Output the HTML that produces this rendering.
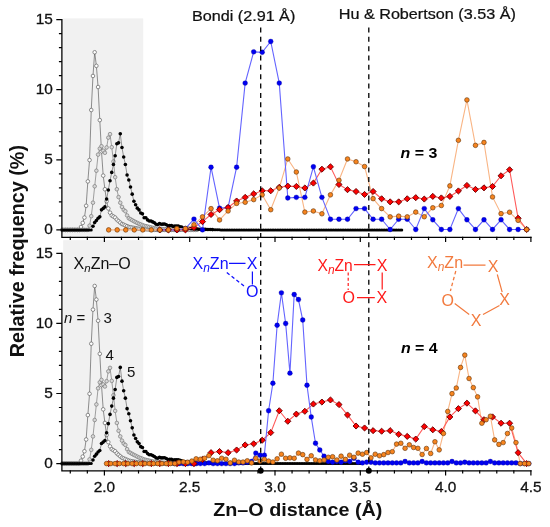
<!DOCTYPE html>
<html><head><meta charset="utf-8"><style>
html,body{margin:0;padding:0;background:#fff;width:550px;height:527px;overflow:hidden}
svg{display:block;will-change:transform}
text{font-family:"Liberation Sans",sans-serif}
.tk{font-size:15.4px;fill:#111;stroke:#111;stroke-width:0.3px}
.lb{font-size:16.2px;fill:#111}
.b{font-weight:bold}
</style></head><body>
<svg width="550" height="527" viewBox="0 0 550 527">
<rect x="63.2" y="18.4" width="80" height="218.5" fill="#f1f1f1"/>
<rect x="63.2" y="240.2" width="80" height="230.2" fill="#f1f1f1"/>
<polyline points="62.26,229.9 63.97,229.9 65.67,229.9 67.38,229.9 69.09,229.9 70.79,229.9 72.5,229.9 74.2,229.9 75.91,229.9 77.62,229.9 79.32,229.9 81.03,226.96 82.73,222.89 84.44,217.56 86.15,205.79 87.85,181.39 89.56,160.08 91.26,110.03 92.97,75.96 94.68,52.27 96.38,65.87 98.09,87.04 99.79,120.12 101.5,151.39 103.21,175.64 104.91,189.24 106.62,201.3 108.32,208.45 110.03,212.66 111.74,215.46 113.44,216.51 115.15,217.56 116.85,219.67 118.56,221.14 120.27,222.61 121.97,224.01 123.68,224.71 125.38,225.41 127.09,226.18 128.8,226.96 130.5,227.28 132.21,227.6 133.91,227.92 135.62,228.23 137.33,228.55 139.03,228.81 140.74,228.92 142.44,229.04 144.15,229.15 145.86,229.26 147.56,229.37 149.27,229.49 150.97,229.6 152.68,229.71 154.39,229.82 156.09,229.9 157.8,229.9 159.5,229.9 161.21,229.9 162.92,229.9 164.62,229.9 166.33,229.9 168.03,229.9 169.74,229.9 171.45,229.9 173.15,229.9 174.86,229.9 176.56,229.9 178.27,229.9 179.98,229.9" fill="none" stroke="#606060" stroke-width="0.7"/>
<circle cx="62.26" cy="229.9" r="1.8" fill="#ffffff" stroke="#606060" stroke-width="0.7"/><circle cx="63.97" cy="229.9" r="1.8" fill="#ffffff" stroke="#606060" stroke-width="0.7"/><circle cx="65.67" cy="229.9" r="1.8" fill="#ffffff" stroke="#606060" stroke-width="0.7"/><circle cx="67.38" cy="229.9" r="1.8" fill="#ffffff" stroke="#606060" stroke-width="0.7"/><circle cx="69.09" cy="229.9" r="1.8" fill="#ffffff" stroke="#606060" stroke-width="0.7"/><circle cx="70.79" cy="229.9" r="1.8" fill="#ffffff" stroke="#606060" stroke-width="0.7"/><circle cx="72.5" cy="229.9" r="1.8" fill="#ffffff" stroke="#606060" stroke-width="0.7"/><circle cx="74.2" cy="229.9" r="1.8" fill="#ffffff" stroke="#606060" stroke-width="0.7"/><circle cx="75.91" cy="229.9" r="1.8" fill="#ffffff" stroke="#606060" stroke-width="0.7"/><circle cx="77.62" cy="229.9" r="1.8" fill="#ffffff" stroke="#606060" stroke-width="0.7"/><circle cx="79.32" cy="229.9" r="1.8" fill="#ffffff" stroke="#606060" stroke-width="0.7"/><circle cx="81.03" cy="226.96" r="1.8" fill="#ffffff" stroke="#606060" stroke-width="0.7"/><circle cx="82.73" cy="222.89" r="1.8" fill="#ffffff" stroke="#606060" stroke-width="0.7"/><circle cx="84.44" cy="217.56" r="1.8" fill="#ffffff" stroke="#606060" stroke-width="0.7"/><circle cx="86.15" cy="205.79" r="1.8" fill="#ffffff" stroke="#606060" stroke-width="0.7"/><circle cx="87.85" cy="181.39" r="1.8" fill="#ffffff" stroke="#606060" stroke-width="0.7"/><circle cx="89.56" cy="160.08" r="1.8" fill="#ffffff" stroke="#606060" stroke-width="0.7"/><circle cx="91.26" cy="110.03" r="1.8" fill="#ffffff" stroke="#606060" stroke-width="0.7"/><circle cx="92.97" cy="75.96" r="1.8" fill="#ffffff" stroke="#606060" stroke-width="0.7"/><circle cx="94.68" cy="52.27" r="1.8" fill="#ffffff" stroke="#606060" stroke-width="0.7"/><circle cx="96.38" cy="65.87" r="1.8" fill="#ffffff" stroke="#606060" stroke-width="0.7"/><circle cx="98.09" cy="87.04" r="1.8" fill="#ffffff" stroke="#606060" stroke-width="0.7"/><circle cx="99.79" cy="120.12" r="1.8" fill="#ffffff" stroke="#606060" stroke-width="0.7"/><circle cx="101.5" cy="151.39" r="1.8" fill="#ffffff" stroke="#606060" stroke-width="0.7"/><circle cx="103.21" cy="175.64" r="1.8" fill="#ffffff" stroke="#606060" stroke-width="0.7"/><circle cx="104.91" cy="189.24" r="1.8" fill="#ffffff" stroke="#606060" stroke-width="0.7"/><circle cx="106.62" cy="201.3" r="1.8" fill="#ffffff" stroke="#606060" stroke-width="0.7"/><circle cx="108.32" cy="208.45" r="1.8" fill="#ffffff" stroke="#606060" stroke-width="0.7"/><circle cx="110.03" cy="212.66" r="1.8" fill="#ffffff" stroke="#606060" stroke-width="0.7"/><circle cx="111.74" cy="215.46" r="1.8" fill="#ffffff" stroke="#606060" stroke-width="0.7"/><circle cx="113.44" cy="216.51" r="1.8" fill="#ffffff" stroke="#606060" stroke-width="0.7"/><circle cx="115.15" cy="217.56" r="1.8" fill="#ffffff" stroke="#606060" stroke-width="0.7"/><circle cx="116.85" cy="219.67" r="1.8" fill="#ffffff" stroke="#606060" stroke-width="0.7"/><circle cx="118.56" cy="221.14" r="1.8" fill="#ffffff" stroke="#606060" stroke-width="0.7"/><circle cx="120.27" cy="222.61" r="1.8" fill="#ffffff" stroke="#606060" stroke-width="0.7"/><circle cx="121.97" cy="224.01" r="1.8" fill="#ffffff" stroke="#606060" stroke-width="0.7"/><circle cx="123.68" cy="224.71" r="1.8" fill="#ffffff" stroke="#606060" stroke-width="0.7"/><circle cx="125.38" cy="225.41" r="1.8" fill="#ffffff" stroke="#606060" stroke-width="0.7"/><circle cx="127.09" cy="226.18" r="1.8" fill="#ffffff" stroke="#606060" stroke-width="0.7"/><circle cx="128.8" cy="226.96" r="1.8" fill="#ffffff" stroke="#606060" stroke-width="0.7"/><circle cx="130.5" cy="227.28" r="1.8" fill="#ffffff" stroke="#606060" stroke-width="0.7"/><circle cx="132.21" cy="227.6" r="1.8" fill="#ffffff" stroke="#606060" stroke-width="0.7"/><circle cx="133.91" cy="227.92" r="1.8" fill="#ffffff" stroke="#606060" stroke-width="0.7"/><circle cx="135.62" cy="228.23" r="1.8" fill="#ffffff" stroke="#606060" stroke-width="0.7"/><circle cx="137.33" cy="228.55" r="1.8" fill="#ffffff" stroke="#606060" stroke-width="0.7"/><circle cx="139.03" cy="228.81" r="1.8" fill="#ffffff" stroke="#606060" stroke-width="0.7"/><circle cx="140.74" cy="228.92" r="1.8" fill="#ffffff" stroke="#606060" stroke-width="0.7"/><circle cx="142.44" cy="229.04" r="1.8" fill="#ffffff" stroke="#606060" stroke-width="0.7"/><circle cx="144.15" cy="229.15" r="1.8" fill="#ffffff" stroke="#606060" stroke-width="0.7"/><circle cx="145.86" cy="229.26" r="1.8" fill="#ffffff" stroke="#606060" stroke-width="0.7"/><circle cx="147.56" cy="229.37" r="1.8" fill="#ffffff" stroke="#606060" stroke-width="0.7"/><circle cx="149.27" cy="229.49" r="1.8" fill="#ffffff" stroke="#606060" stroke-width="0.7"/><circle cx="150.97" cy="229.6" r="1.8" fill="#ffffff" stroke="#606060" stroke-width="0.7"/><circle cx="152.68" cy="229.71" r="1.8" fill="#ffffff" stroke="#606060" stroke-width="0.7"/><circle cx="154.39" cy="229.82" r="1.8" fill="#ffffff" stroke="#606060" stroke-width="0.7"/><circle cx="156.09" cy="229.9" r="1.8" fill="#ffffff" stroke="#606060" stroke-width="0.7"/><circle cx="157.8" cy="229.9" r="1.8" fill="#ffffff" stroke="#606060" stroke-width="0.7"/><circle cx="159.5" cy="229.9" r="1.8" fill="#ffffff" stroke="#606060" stroke-width="0.7"/><circle cx="161.21" cy="229.9" r="1.8" fill="#ffffff" stroke="#606060" stroke-width="0.7"/><circle cx="162.92" cy="229.9" r="1.8" fill="#ffffff" stroke="#606060" stroke-width="0.7"/><circle cx="164.62" cy="229.9" r="1.8" fill="#ffffff" stroke="#606060" stroke-width="0.7"/><circle cx="166.33" cy="229.9" r="1.8" fill="#ffffff" stroke="#606060" stroke-width="0.7"/><circle cx="168.03" cy="229.9" r="1.8" fill="#ffffff" stroke="#606060" stroke-width="0.7"/><circle cx="169.74" cy="229.9" r="1.8" fill="#ffffff" stroke="#606060" stroke-width="0.7"/><circle cx="171.45" cy="229.9" r="1.8" fill="#ffffff" stroke="#606060" stroke-width="0.7"/><circle cx="173.15" cy="229.9" r="1.8" fill="#ffffff" stroke="#606060" stroke-width="0.7"/><circle cx="174.86" cy="229.9" r="1.8" fill="#ffffff" stroke="#606060" stroke-width="0.7"/><circle cx="176.56" cy="229.9" r="1.8" fill="#ffffff" stroke="#606060" stroke-width="0.7"/><circle cx="178.27" cy="229.9" r="1.8" fill="#ffffff" stroke="#606060" stroke-width="0.7"/><circle cx="179.98" cy="229.9" r="1.8" fill="#ffffff" stroke="#606060" stroke-width="0.7"/>
<polyline points="62.26,229.9 63.97,229.9 65.67,229.9 67.38,229.9 69.09,229.9 70.79,229.9 72.5,229.9 74.2,229.9 75.91,229.9 77.62,229.9 79.32,229.9 81.03,229.9 82.73,229.9 84.44,229.9 86.15,229.9 87.85,229.9 89.56,225.69 91.26,216.16 92.97,202.7 94.68,186.3 96.38,170.74 98.09,154.61 99.79,148.58 101.5,146.2 103.21,150.69 104.91,152.79 106.62,147.46 108.32,137.65 110.03,134.14 111.74,147.18 113.44,161.48 115.15,177.18 116.85,189.24 118.56,197.09 120.27,202.7 121.97,206.91 123.68,209.85 125.38,211.25 127.09,215.46 128.8,218.26 130.5,219.24 132.21,220.23 133.91,221.21 135.62,222.09 137.33,222.97 139.03,223.79 140.74,224.45 142.44,225.1 144.15,225.74 145.86,226.15 147.56,226.56 149.27,226.97 150.97,227.38 152.68,227.8 154.39,228.21 156.09,228.53 157.8,228.64 159.5,228.76 161.21,228.87 162.92,228.98 164.62,229.09 166.33,229.2 168.03,229.32 169.74,229.43 171.45,229.54 173.15,229.63 174.86,229.66 176.56,229.68 178.27,229.71 179.98,229.74 181.68,229.77 183.39,229.8 185.09,229.82 186.8,229.85 188.51,229.88 190.21,229.9 191.92,229.9 193.62,229.9 195.33,229.9 197.04,229.9" fill="none" stroke="#7a7a7a" stroke-width="0.7"/>
<circle cx="62.26" cy="229.9" r="1.8" fill="#d8d8d8" stroke="#7a7a7a" stroke-width="0.7"/><circle cx="63.97" cy="229.9" r="1.8" fill="#d8d8d8" stroke="#7a7a7a" stroke-width="0.7"/><circle cx="65.67" cy="229.9" r="1.8" fill="#d8d8d8" stroke="#7a7a7a" stroke-width="0.7"/><circle cx="67.38" cy="229.9" r="1.8" fill="#d8d8d8" stroke="#7a7a7a" stroke-width="0.7"/><circle cx="69.09" cy="229.9" r="1.8" fill="#d8d8d8" stroke="#7a7a7a" stroke-width="0.7"/><circle cx="70.79" cy="229.9" r="1.8" fill="#d8d8d8" stroke="#7a7a7a" stroke-width="0.7"/><circle cx="72.5" cy="229.9" r="1.8" fill="#d8d8d8" stroke="#7a7a7a" stroke-width="0.7"/><circle cx="74.2" cy="229.9" r="1.8" fill="#d8d8d8" stroke="#7a7a7a" stroke-width="0.7"/><circle cx="75.91" cy="229.9" r="1.8" fill="#d8d8d8" stroke="#7a7a7a" stroke-width="0.7"/><circle cx="77.62" cy="229.9" r="1.8" fill="#d8d8d8" stroke="#7a7a7a" stroke-width="0.7"/><circle cx="79.32" cy="229.9" r="1.8" fill="#d8d8d8" stroke="#7a7a7a" stroke-width="0.7"/><circle cx="81.03" cy="229.9" r="1.8" fill="#d8d8d8" stroke="#7a7a7a" stroke-width="0.7"/><circle cx="82.73" cy="229.9" r="1.8" fill="#d8d8d8" stroke="#7a7a7a" stroke-width="0.7"/><circle cx="84.44" cy="229.9" r="1.8" fill="#d8d8d8" stroke="#7a7a7a" stroke-width="0.7"/><circle cx="86.15" cy="229.9" r="1.8" fill="#d8d8d8" stroke="#7a7a7a" stroke-width="0.7"/><circle cx="87.85" cy="229.9" r="1.8" fill="#d8d8d8" stroke="#7a7a7a" stroke-width="0.7"/><circle cx="89.56" cy="225.69" r="1.8" fill="#d8d8d8" stroke="#7a7a7a" stroke-width="0.7"/><circle cx="91.26" cy="216.16" r="1.8" fill="#d8d8d8" stroke="#7a7a7a" stroke-width="0.7"/><circle cx="92.97" cy="202.7" r="1.8" fill="#d8d8d8" stroke="#7a7a7a" stroke-width="0.7"/><circle cx="94.68" cy="186.3" r="1.8" fill="#d8d8d8" stroke="#7a7a7a" stroke-width="0.7"/><circle cx="96.38" cy="170.74" r="1.8" fill="#d8d8d8" stroke="#7a7a7a" stroke-width="0.7"/><circle cx="98.09" cy="154.61" r="1.8" fill="#d8d8d8" stroke="#7a7a7a" stroke-width="0.7"/><circle cx="99.79" cy="148.58" r="1.8" fill="#d8d8d8" stroke="#7a7a7a" stroke-width="0.7"/><circle cx="101.5" cy="146.2" r="1.8" fill="#d8d8d8" stroke="#7a7a7a" stroke-width="0.7"/><circle cx="103.21" cy="150.69" r="1.8" fill="#d8d8d8" stroke="#7a7a7a" stroke-width="0.7"/><circle cx="104.91" cy="152.79" r="1.8" fill="#d8d8d8" stroke="#7a7a7a" stroke-width="0.7"/><circle cx="106.62" cy="147.46" r="1.8" fill="#d8d8d8" stroke="#7a7a7a" stroke-width="0.7"/><circle cx="108.32" cy="137.65" r="1.8" fill="#d8d8d8" stroke="#7a7a7a" stroke-width="0.7"/><circle cx="110.03" cy="134.14" r="1.8" fill="#d8d8d8" stroke="#7a7a7a" stroke-width="0.7"/><circle cx="111.74" cy="147.18" r="1.8" fill="#d8d8d8" stroke="#7a7a7a" stroke-width="0.7"/><circle cx="113.44" cy="161.48" r="1.8" fill="#d8d8d8" stroke="#7a7a7a" stroke-width="0.7"/><circle cx="115.15" cy="177.18" r="1.8" fill="#d8d8d8" stroke="#7a7a7a" stroke-width="0.7"/><circle cx="116.85" cy="189.24" r="1.8" fill="#d8d8d8" stroke="#7a7a7a" stroke-width="0.7"/><circle cx="118.56" cy="197.09" r="1.8" fill="#d8d8d8" stroke="#7a7a7a" stroke-width="0.7"/><circle cx="120.27" cy="202.7" r="1.8" fill="#d8d8d8" stroke="#7a7a7a" stroke-width="0.7"/><circle cx="121.97" cy="206.91" r="1.8" fill="#d8d8d8" stroke="#7a7a7a" stroke-width="0.7"/><circle cx="123.68" cy="209.85" r="1.8" fill="#d8d8d8" stroke="#7a7a7a" stroke-width="0.7"/><circle cx="125.38" cy="211.25" r="1.8" fill="#d8d8d8" stroke="#7a7a7a" stroke-width="0.7"/><circle cx="127.09" cy="215.46" r="1.8" fill="#d8d8d8" stroke="#7a7a7a" stroke-width="0.7"/><circle cx="128.8" cy="218.26" r="1.8" fill="#d8d8d8" stroke="#7a7a7a" stroke-width="0.7"/><circle cx="130.5" cy="219.24" r="1.8" fill="#d8d8d8" stroke="#7a7a7a" stroke-width="0.7"/><circle cx="132.21" cy="220.23" r="1.8" fill="#d8d8d8" stroke="#7a7a7a" stroke-width="0.7"/><circle cx="133.91" cy="221.21" r="1.8" fill="#d8d8d8" stroke="#7a7a7a" stroke-width="0.7"/><circle cx="135.62" cy="222.09" r="1.8" fill="#d8d8d8" stroke="#7a7a7a" stroke-width="0.7"/><circle cx="137.33" cy="222.97" r="1.8" fill="#d8d8d8" stroke="#7a7a7a" stroke-width="0.7"/><circle cx="139.03" cy="223.79" r="1.8" fill="#d8d8d8" stroke="#7a7a7a" stroke-width="0.7"/><circle cx="140.74" cy="224.45" r="1.8" fill="#d8d8d8" stroke="#7a7a7a" stroke-width="0.7"/><circle cx="142.44" cy="225.1" r="1.8" fill="#d8d8d8" stroke="#7a7a7a" stroke-width="0.7"/><circle cx="144.15" cy="225.74" r="1.8" fill="#d8d8d8" stroke="#7a7a7a" stroke-width="0.7"/><circle cx="145.86" cy="226.15" r="1.8" fill="#d8d8d8" stroke="#7a7a7a" stroke-width="0.7"/><circle cx="147.56" cy="226.56" r="1.8" fill="#d8d8d8" stroke="#7a7a7a" stroke-width="0.7"/><circle cx="149.27" cy="226.97" r="1.8" fill="#d8d8d8" stroke="#7a7a7a" stroke-width="0.7"/><circle cx="150.97" cy="227.38" r="1.8" fill="#d8d8d8" stroke="#7a7a7a" stroke-width="0.7"/><circle cx="152.68" cy="227.8" r="1.8" fill="#d8d8d8" stroke="#7a7a7a" stroke-width="0.7"/><circle cx="154.39" cy="228.21" r="1.8" fill="#d8d8d8" stroke="#7a7a7a" stroke-width="0.7"/><circle cx="156.09" cy="228.53" r="1.8" fill="#d8d8d8" stroke="#7a7a7a" stroke-width="0.7"/><circle cx="157.8" cy="228.64" r="1.8" fill="#d8d8d8" stroke="#7a7a7a" stroke-width="0.7"/><circle cx="159.5" cy="228.76" r="1.8" fill="#d8d8d8" stroke="#7a7a7a" stroke-width="0.7"/><circle cx="161.21" cy="228.87" r="1.8" fill="#d8d8d8" stroke="#7a7a7a" stroke-width="0.7"/><circle cx="162.92" cy="228.98" r="1.8" fill="#d8d8d8" stroke="#7a7a7a" stroke-width="0.7"/><circle cx="164.62" cy="229.09" r="1.8" fill="#d8d8d8" stroke="#7a7a7a" stroke-width="0.7"/><circle cx="166.33" cy="229.2" r="1.8" fill="#d8d8d8" stroke="#7a7a7a" stroke-width="0.7"/><circle cx="168.03" cy="229.32" r="1.8" fill="#d8d8d8" stroke="#7a7a7a" stroke-width="0.7"/><circle cx="169.74" cy="229.43" r="1.8" fill="#d8d8d8" stroke="#7a7a7a" stroke-width="0.7"/><circle cx="171.45" cy="229.54" r="1.8" fill="#d8d8d8" stroke="#7a7a7a" stroke-width="0.7"/><circle cx="173.15" cy="229.63" r="1.8" fill="#d8d8d8" stroke="#7a7a7a" stroke-width="0.7"/><circle cx="174.86" cy="229.66" r="1.8" fill="#d8d8d8" stroke="#7a7a7a" stroke-width="0.7"/><circle cx="176.56" cy="229.68" r="1.8" fill="#d8d8d8" stroke="#7a7a7a" stroke-width="0.7"/><circle cx="178.27" cy="229.71" r="1.8" fill="#d8d8d8" stroke="#7a7a7a" stroke-width="0.7"/><circle cx="179.98" cy="229.74" r="1.8" fill="#d8d8d8" stroke="#7a7a7a" stroke-width="0.7"/><circle cx="181.68" cy="229.77" r="1.8" fill="#d8d8d8" stroke="#7a7a7a" stroke-width="0.7"/><circle cx="183.39" cy="229.8" r="1.8" fill="#d8d8d8" stroke="#7a7a7a" stroke-width="0.7"/><circle cx="185.09" cy="229.82" r="1.8" fill="#d8d8d8" stroke="#7a7a7a" stroke-width="0.7"/><circle cx="186.8" cy="229.85" r="1.8" fill="#d8d8d8" stroke="#7a7a7a" stroke-width="0.7"/><circle cx="188.51" cy="229.88" r="1.8" fill="#d8d8d8" stroke="#7a7a7a" stroke-width="0.7"/><circle cx="190.21" cy="229.9" r="1.8" fill="#d8d8d8" stroke="#7a7a7a" stroke-width="0.7"/><circle cx="191.92" cy="229.9" r="1.8" fill="#d8d8d8" stroke="#7a7a7a" stroke-width="0.7"/><circle cx="193.62" cy="229.9" r="1.8" fill="#d8d8d8" stroke="#7a7a7a" stroke-width="0.7"/><circle cx="195.33" cy="229.9" r="1.8" fill="#d8d8d8" stroke="#7a7a7a" stroke-width="0.7"/><circle cx="197.04" cy="229.9" r="1.8" fill="#d8d8d8" stroke="#7a7a7a" stroke-width="0.7"/>
<polyline points="62.26,229.9 63.97,229.9 65.67,229.9 67.38,229.9 69.09,229.9 70.79,229.9 72.5,229.9 74.2,229.9 75.91,229.9 77.62,229.9 79.32,229.9 81.03,229.9 82.73,229.9 84.44,229.9 86.15,229.9 87.85,229.9 89.56,229.9 91.26,229.9 92.97,226.25 94.68,222.61 96.38,220.44 98.09,218.26 99.79,216.86 101.5,209.85 103.21,208.38 104.91,206.91 106.62,199.06 108.32,189.94 110.03,180.69 111.74,172.42 113.44,164.43 115.15,155.73 116.85,143.68 118.56,142.84 120.27,133.72 121.97,147.46 123.68,157 125.38,164.43 127.09,174.94 128.8,179.99 130.5,187 132.21,194.15 133.91,201.3 135.62,204.73 137.33,208.17 139.03,209.89 140.74,212.95 142.44,213.85 144.15,217.74 145.86,217.75 147.56,219.9 149.27,221 150.97,221.04 152.68,221.88 154.39,222.75 156.09,224.21 157.8,224.53 159.5,223.63 161.21,224.18 162.92,224.16 164.62,224.05 166.33,224.74 168.03,225.81 169.74,225.61 171.45,225.55 173.15,226.41 174.86,226.07 176.56,226.02 178.27,226.06 179.98,226.69 181.68,227.07 183.39,228.22 185.09,228.28 186.8,228.32 188.51,228.31 190.21,228.54 191.92,228.79 193.62,228.82 195.33,228.94 197.04,229.05 198.74,229.2 200.45,229.23 202.15,229.28 203.86,229.29 205.57,229.35 207.27,229.45 208.98,229.51 210.68,229.54 212.39,229.59 214.1,229.67 215.8,229.73 217.51,229.79 219.21,229.86 220.92,229.9 222.63,229.9 224.33,229.9 226.04,229.9 227.74,229.9 229.45,229.9 231.16,229.9 232.86,229.9 234.57,229.9 236.27,229.9 237.98,229.9 239.69,229.9 241.39,229.9 243.1,229.9 244.8,229.9 246.51,229.9 248.22,229.9 249.92,229.9 251.63,229.9 253.33,229.9 255.04,229.9 256.75,229.9 258.45,229.9 260.16,229.9 261.86,229.9 263.57,229.9 265.28,229.9 266.98,229.9 268.69,229.9 270.39,229.9 272.1,229.9 273.81,229.9 275.51,229.9 277.22,229.9 278.92,229.9 280.63,229.9 282.34,229.9 284.04,229.9 285.75,229.9 287.45,229.9 289.16,229.9 290.87,229.9 292.57,229.9 294.28,229.9 295.98,229.9 297.69,229.9 299.4,229.9 301.1,229.9 302.81,229.9 304.51,229.9 306.22,229.9 307.93,229.9 309.63,229.9 311.34,229.9 313.04,229.9 314.75,229.9 316.46,229.9 318.16,229.9 319.87,229.9 321.57,229.9 323.28,229.9 324.99,229.9 326.69,229.9 328.4,229.9 330.1,229.9 331.81,229.9 333.52,229.9 335.22,229.9 336.93,229.9 338.63,229.9 340.34,229.9 342.05,229.9 343.75,229.9 345.46,229.9 347.16,229.9 348.87,229.9 350.58,229.9 352.28,229.9 353.99,229.9 355.69,229.9 357.4,229.9 359.11,229.9 360.81,229.9 362.52,229.9 364.22,229.9 365.93,229.9 367.64,229.9 369.34,229.9 371.05,229.9 372.75,229.9 374.46,229.9 376.17,229.9 377.87,229.9 379.58,229.9 381.28,229.9 382.99,229.9 384.7,229.9 386.4,229.9 388.11,229.9 389.81,229.9 391.52,229.9 393.23,229.9 394.93,229.9 396.64,229.9 398.34,229.9 400.05,229.9 401.76,229.9" fill="none" stroke="#000" stroke-width="0.4"/>
<circle cx="62.26" cy="229.9" r="1.5" fill="#000"/><circle cx="63.97" cy="229.9" r="1.5" fill="#000"/><circle cx="65.67" cy="229.9" r="1.5" fill="#000"/><circle cx="67.38" cy="229.9" r="1.5" fill="#000"/><circle cx="69.09" cy="229.9" r="1.5" fill="#000"/><circle cx="70.79" cy="229.9" r="1.5" fill="#000"/><circle cx="72.5" cy="229.9" r="1.5" fill="#000"/><circle cx="74.2" cy="229.9" r="1.5" fill="#000"/><circle cx="75.91" cy="229.9" r="1.5" fill="#000"/><circle cx="77.62" cy="229.9" r="1.5" fill="#000"/><circle cx="79.32" cy="229.9" r="1.5" fill="#000"/><circle cx="81.03" cy="229.9" r="1.5" fill="#000"/><circle cx="82.73" cy="229.9" r="1.5" fill="#000"/><circle cx="84.44" cy="229.9" r="1.5" fill="#000"/><circle cx="86.15" cy="229.9" r="1.5" fill="#000"/><circle cx="87.85" cy="229.9" r="1.5" fill="#000"/><circle cx="89.56" cy="229.9" r="1.5" fill="#000"/><circle cx="91.26" cy="229.9" r="1.5" fill="#000"/><circle cx="92.97" cy="226.25" r="1.8" fill="#000"/><circle cx="94.68" cy="222.61" r="1.8" fill="#000"/><circle cx="96.38" cy="220.44" r="1.8" fill="#000"/><circle cx="98.09" cy="218.26" r="1.8" fill="#000"/><circle cx="99.79" cy="216.86" r="1.8" fill="#000"/><circle cx="101.5" cy="209.85" r="1.8" fill="#000"/><circle cx="103.21" cy="208.38" r="1.8" fill="#000"/><circle cx="104.91" cy="206.91" r="1.8" fill="#000"/><circle cx="106.62" cy="199.06" r="1.8" fill="#000"/><circle cx="108.32" cy="189.94" r="1.8" fill="#000"/><circle cx="110.03" cy="180.69" r="1.8" fill="#000"/><circle cx="111.74" cy="172.42" r="1.8" fill="#000"/><circle cx="113.44" cy="164.43" r="1.8" fill="#000"/><circle cx="115.15" cy="155.73" r="1.8" fill="#000"/><circle cx="116.85" cy="143.68" r="1.8" fill="#000"/><circle cx="118.56" cy="142.84" r="1.8" fill="#000"/><circle cx="120.27" cy="133.72" r="1.8" fill="#000"/><circle cx="121.97" cy="147.46" r="1.8" fill="#000"/><circle cx="123.68" cy="157" r="1.8" fill="#000"/><circle cx="125.38" cy="164.43" r="1.8" fill="#000"/><circle cx="127.09" cy="174.94" r="1.8" fill="#000"/><circle cx="128.8" cy="179.99" r="1.8" fill="#000"/><circle cx="130.5" cy="187" r="1.8" fill="#000"/><circle cx="132.21" cy="194.15" r="1.8" fill="#000"/><circle cx="133.91" cy="201.3" r="1.8" fill="#000"/><circle cx="135.62" cy="204.73" r="1.8" fill="#000"/><circle cx="137.33" cy="208.17" r="1.8" fill="#000"/><circle cx="139.03" cy="209.89" r="1.8" fill="#000"/><circle cx="140.74" cy="212.95" r="1.8" fill="#000"/><circle cx="142.44" cy="213.85" r="1.8" fill="#000"/><circle cx="144.15" cy="217.74" r="1.8" fill="#000"/><circle cx="145.86" cy="217.75" r="1.8" fill="#000"/><circle cx="147.56" cy="219.9" r="1.8" fill="#000"/><circle cx="149.27" cy="221" r="1.8" fill="#000"/><circle cx="150.97" cy="221.04" r="1.8" fill="#000"/><circle cx="152.68" cy="221.88" r="1.8" fill="#000"/><circle cx="154.39" cy="222.75" r="1.8" fill="#000"/><circle cx="156.09" cy="224.21" r="1.8" fill="#000"/><circle cx="157.8" cy="224.53" r="1.8" fill="#000"/><circle cx="159.5" cy="223.63" r="1.8" fill="#000"/><circle cx="161.21" cy="224.18" r="1.8" fill="#000"/><circle cx="162.92" cy="224.16" r="1.8" fill="#000"/><circle cx="164.62" cy="224.05" r="1.8" fill="#000"/><circle cx="166.33" cy="224.74" r="1.8" fill="#000"/><circle cx="168.03" cy="225.81" r="1.8" fill="#000"/><circle cx="169.74" cy="225.61" r="1.8" fill="#000"/><circle cx="171.45" cy="225.55" r="1.8" fill="#000"/><circle cx="173.15" cy="226.41" r="1.8" fill="#000"/><circle cx="174.86" cy="226.07" r="1.8" fill="#000"/><circle cx="176.56" cy="226.02" r="1.8" fill="#000"/><circle cx="178.27" cy="226.06" r="1.8" fill="#000"/><circle cx="179.98" cy="226.69" r="1.8" fill="#000"/><circle cx="181.68" cy="227.07" r="1.8" fill="#000"/><circle cx="183.39" cy="228.22" r="1.8" fill="#000"/><circle cx="185.09" cy="228.28" r="1.8" fill="#000"/><circle cx="186.8" cy="228.32" r="1.8" fill="#000"/><circle cx="188.51" cy="228.31" r="1.8" fill="#000"/><circle cx="190.21" cy="228.54" r="1.8" fill="#000"/><circle cx="191.92" cy="228.79" r="1.8" fill="#000"/><circle cx="193.62" cy="228.82" r="1.8" fill="#000"/><circle cx="195.33" cy="228.94" r="1.8" fill="#000"/><circle cx="197.04" cy="229.05" r="1.8" fill="#000"/><circle cx="198.74" cy="229.2" r="1.8" fill="#000"/><circle cx="200.45" cy="229.23" r="1.8" fill="#000"/><circle cx="202.15" cy="229.28" r="1.8" fill="#000"/><circle cx="203.86" cy="229.29" r="1.8" fill="#000"/><circle cx="205.57" cy="229.35" r="1.8" fill="#000"/><circle cx="207.27" cy="229.45" r="1.8" fill="#000"/><circle cx="208.98" cy="229.51" r="1.8" fill="#000"/><circle cx="210.68" cy="229.54" r="1.8" fill="#000"/><circle cx="212.39" cy="229.59" r="1.8" fill="#000"/><circle cx="214.1" cy="229.67" r="1.5" fill="#000"/><circle cx="215.8" cy="229.73" r="1.5" fill="#000"/><circle cx="217.51" cy="229.79" r="1.5" fill="#000"/><circle cx="219.21" cy="229.86" r="1.5" fill="#000"/><circle cx="220.92" cy="229.9" r="1.5" fill="#000"/><circle cx="222.63" cy="229.9" r="1.5" fill="#000"/><circle cx="224.33" cy="229.9" r="1.5" fill="#000"/><circle cx="226.04" cy="229.9" r="1.5" fill="#000"/><circle cx="227.74" cy="229.9" r="1.5" fill="#000"/><circle cx="229.45" cy="229.9" r="1.5" fill="#000"/><circle cx="231.16" cy="229.9" r="1.5" fill="#000"/><circle cx="232.86" cy="229.9" r="1.5" fill="#000"/><circle cx="234.57" cy="229.9" r="1.5" fill="#000"/><circle cx="236.27" cy="229.9" r="1.5" fill="#000"/><circle cx="237.98" cy="229.9" r="1.5" fill="#000"/><circle cx="239.69" cy="229.9" r="1.5" fill="#000"/><circle cx="241.39" cy="229.9" r="1.5" fill="#000"/><circle cx="243.1" cy="229.9" r="1.5" fill="#000"/><circle cx="244.8" cy="229.9" r="1.5" fill="#000"/><circle cx="246.51" cy="229.9" r="1.5" fill="#000"/><circle cx="248.22" cy="229.9" r="1.5" fill="#000"/><circle cx="249.92" cy="229.9" r="1.5" fill="#000"/><circle cx="251.63" cy="229.9" r="1.5" fill="#000"/><circle cx="253.33" cy="229.9" r="1.5" fill="#000"/><circle cx="255.04" cy="229.9" r="1.5" fill="#000"/><circle cx="256.75" cy="229.9" r="1.5" fill="#000"/><circle cx="258.45" cy="229.9" r="1.5" fill="#000"/><circle cx="260.16" cy="229.9" r="1.5" fill="#000"/><circle cx="261.86" cy="229.9" r="1.5" fill="#000"/><circle cx="263.57" cy="229.9" r="1.5" fill="#000"/><circle cx="265.28" cy="229.9" r="1.5" fill="#000"/><circle cx="266.98" cy="229.9" r="1.5" fill="#000"/><circle cx="268.69" cy="229.9" r="1.5" fill="#000"/><circle cx="270.39" cy="229.9" r="1.5" fill="#000"/><circle cx="272.1" cy="229.9" r="1.5" fill="#000"/><circle cx="273.81" cy="229.9" r="1.5" fill="#000"/><circle cx="275.51" cy="229.9" r="1.5" fill="#000"/><circle cx="277.22" cy="229.9" r="1.5" fill="#000"/><circle cx="278.92" cy="229.9" r="1.5" fill="#000"/><circle cx="280.63" cy="229.9" r="1.5" fill="#000"/><circle cx="282.34" cy="229.9" r="1.5" fill="#000"/><circle cx="284.04" cy="229.9" r="1.5" fill="#000"/><circle cx="285.75" cy="229.9" r="1.5" fill="#000"/><circle cx="287.45" cy="229.9" r="1.5" fill="#000"/><circle cx="289.16" cy="229.9" r="1.5" fill="#000"/><circle cx="290.87" cy="229.9" r="1.5" fill="#000"/><circle cx="292.57" cy="229.9" r="1.5" fill="#000"/><circle cx="294.28" cy="229.9" r="1.5" fill="#000"/><circle cx="295.98" cy="229.9" r="1.5" fill="#000"/><circle cx="297.69" cy="229.9" r="1.5" fill="#000"/><circle cx="299.4" cy="229.9" r="1.5" fill="#000"/><circle cx="301.1" cy="229.9" r="1.5" fill="#000"/><circle cx="302.81" cy="229.9" r="1.5" fill="#000"/><circle cx="304.51" cy="229.9" r="1.5" fill="#000"/><circle cx="306.22" cy="229.9" r="1.5" fill="#000"/><circle cx="307.93" cy="229.9" r="1.5" fill="#000"/><circle cx="309.63" cy="229.9" r="1.5" fill="#000"/><circle cx="311.34" cy="229.9" r="1.5" fill="#000"/><circle cx="313.04" cy="229.9" r="1.5" fill="#000"/><circle cx="314.75" cy="229.9" r="1.5" fill="#000"/><circle cx="316.46" cy="229.9" r="1.5" fill="#000"/><circle cx="318.16" cy="229.9" r="1.5" fill="#000"/><circle cx="319.87" cy="229.9" r="1.5" fill="#000"/><circle cx="321.57" cy="229.9" r="1.5" fill="#000"/><circle cx="323.28" cy="229.9" r="1.5" fill="#000"/><circle cx="324.99" cy="229.9" r="1.5" fill="#000"/><circle cx="326.69" cy="229.9" r="1.5" fill="#000"/><circle cx="328.4" cy="229.9" r="1.5" fill="#000"/><circle cx="330.1" cy="229.9" r="1.5" fill="#000"/><circle cx="331.81" cy="229.9" r="1.5" fill="#000"/><circle cx="333.52" cy="229.9" r="1.5" fill="#000"/><circle cx="335.22" cy="229.9" r="1.5" fill="#000"/><circle cx="336.93" cy="229.9" r="1.5" fill="#000"/><circle cx="338.63" cy="229.9" r="1.5" fill="#000"/><circle cx="340.34" cy="229.9" r="1.5" fill="#000"/><circle cx="342.05" cy="229.9" r="1.5" fill="#000"/><circle cx="343.75" cy="229.9" r="1.5" fill="#000"/><circle cx="345.46" cy="229.9" r="1.5" fill="#000"/><circle cx="347.16" cy="229.9" r="1.5" fill="#000"/><circle cx="348.87" cy="229.9" r="1.5" fill="#000"/><circle cx="350.58" cy="229.9" r="1.5" fill="#000"/><circle cx="352.28" cy="229.9" r="1.5" fill="#000"/><circle cx="353.99" cy="229.9" r="1.5" fill="#000"/><circle cx="355.69" cy="229.9" r="1.5" fill="#000"/><circle cx="357.4" cy="229.9" r="1.5" fill="#000"/><circle cx="359.11" cy="229.9" r="1.5" fill="#000"/><circle cx="360.81" cy="229.9" r="1.5" fill="#000"/><circle cx="362.52" cy="229.9" r="1.5" fill="#000"/><circle cx="364.22" cy="229.9" r="1.5" fill="#000"/><circle cx="365.93" cy="229.9" r="1.5" fill="#000"/><circle cx="367.64" cy="229.9" r="1.5" fill="#000"/><circle cx="369.34" cy="229.9" r="1.5" fill="#000"/><circle cx="371.05" cy="229.9" r="1.5" fill="#000"/><circle cx="372.75" cy="229.9" r="1.5" fill="#000"/><circle cx="374.46" cy="229.9" r="1.5" fill="#000"/><circle cx="376.17" cy="229.9" r="1.5" fill="#000"/><circle cx="377.87" cy="229.9" r="1.5" fill="#000"/><circle cx="379.58" cy="229.9" r="1.5" fill="#000"/><circle cx="381.28" cy="229.9" r="1.5" fill="#000"/><circle cx="382.99" cy="229.9" r="1.5" fill="#000"/><circle cx="384.7" cy="229.9" r="1.5" fill="#000"/><circle cx="386.4" cy="229.9" r="1.5" fill="#000"/><circle cx="388.11" cy="229.9" r="1.5" fill="#000"/><circle cx="389.81" cy="229.9" r="1.5" fill="#000"/><circle cx="391.52" cy="229.9" r="1.5" fill="#000"/><circle cx="393.23" cy="229.9" r="1.5" fill="#000"/><circle cx="394.93" cy="229.9" r="1.5" fill="#000"/><circle cx="396.64" cy="229.9" r="1.5" fill="#000"/><circle cx="398.34" cy="229.9" r="1.5" fill="#000"/><circle cx="400.05" cy="229.9" r="1.5" fill="#000"/><circle cx="401.76" cy="229.9" r="1.5" fill="#000"/>
<polyline points="108.66,229.9 117.19,229.9 125.73,229.9 134.25,229.9 142.79,229.9 151.31,229.9 159.85,229.9 168.38,229.9 176.9,228.5 185.44,228.5 193.96,224.71 202.5,216.86 211.03,208.59 219.55,219.95 228.09,210.97 236.61,203.4 245.15,202.28 253.68,199.62 262.2,194.85 270.74,209.71 279.26,187.98 287.8,158.96 296.32,172 304.85,212.09 313.38,210.97 321.91,213.78 330.45,194.85 338.98,180.27 347.5,158.96 356.04,161.76 364.56,166.53 373.1,198.64 381.62,208.59 390.15,216.86 398.69,216.16 407.22,216.86 415.75,212.09 424.27,216.72 432.8,207.75 441.34,205.51 449.87,185.88 458.39,140.31 466.92,99.93 475.45,145.36 483.98,142.42 492.52,196.95 501.05,213.64 509.58,212.23 518.11,220.37 526.63,229.48" fill="none" stroke="#f9b585" stroke-width="1.1"/>
<polyline points="159.85,229.9 168.38,229.9 176.9,229.9 185.44,229.9 193.96,227.52 202.5,221.63 211.03,214.48 219.55,209.71 228.09,207.47 236.61,201.02 245.15,197.37 253.68,193.87 262.2,190.78 270.74,190.78 279.26,187.28 287.8,186.16 296.32,186.44 304.85,187.98 313.38,183.07 321.91,169.19 330.45,166.81 338.98,184.48 347.5,189.66 356.04,191.49 364.56,194.43 373.1,191.49 381.62,198.78 390.15,201.86 398.69,201.86 407.22,198.78 415.75,197.65 424.27,199.06 432.8,196.39 441.34,197.93 449.87,196.39 458.39,190.92 466.92,185.46 475.45,189.38 483.98,187.84 492.52,186.44 501.05,175.78 509.58,169.75 518.11,218.26 526.63,229.48" fill="none" stroke="#ff5a5a" stroke-width="1.1"/>
<polyline points="159.85,229.9 168.38,229.9 176.9,229.9 185.44,228.5 193.96,219.1 202.5,229.9 211.03,167.23 219.55,208.17 228.09,207.47 236.61,167.23 245.15,83.11 253.68,51.85 262.2,52.27 270.74,41.47 279.26,83.11 287.8,197.93 296.32,197.37 304.85,197.37 313.38,166.81 321.91,197.37 330.45,219.24 338.98,219.24 347.5,219.24 356.04,208.59 364.56,208.59 373.1,219.24 381.62,219.24 390.15,229.48 398.69,219.24 407.22,219.24 415.75,229.48 424.27,208.59 432.8,219.81 441.34,229.48 449.87,229.48 458.39,208.59 466.92,219.81 475.45,229.48 483.98,219.81 492.52,229.48 501.05,219.81 509.58,229.48 518.11,229.48 526.63,229.48" fill="none" stroke="#6464ff" stroke-width="1.1"/>
<circle cx="159.85" cy="229.9" r="2.45" fill="#0000f0" stroke="#00008a" stroke-width="0.3"/><circle cx="168.38" cy="229.9" r="2.45" fill="#0000f0" stroke="#00008a" stroke-width="0.3"/><circle cx="176.9" cy="229.9" r="2.45" fill="#0000f0" stroke="#00008a" stroke-width="0.3"/><circle cx="185.44" cy="228.5" r="2.45" fill="#0000f0" stroke="#00008a" stroke-width="0.3"/><circle cx="193.96" cy="219.1" r="2.45" fill="#0000f0" stroke="#00008a" stroke-width="0.3"/><circle cx="202.5" cy="229.9" r="2.45" fill="#0000f0" stroke="#00008a" stroke-width="0.3"/><circle cx="211.03" cy="167.23" r="2.45" fill="#0000f0" stroke="#00008a" stroke-width="0.3"/><circle cx="219.55" cy="208.17" r="2.45" fill="#0000f0" stroke="#00008a" stroke-width="0.3"/><circle cx="228.09" cy="207.47" r="2.45" fill="#0000f0" stroke="#00008a" stroke-width="0.3"/><circle cx="236.61" cy="167.23" r="2.45" fill="#0000f0" stroke="#00008a" stroke-width="0.3"/><circle cx="245.15" cy="83.11" r="2.45" fill="#0000f0" stroke="#00008a" stroke-width="0.3"/><circle cx="253.68" cy="51.85" r="2.45" fill="#0000f0" stroke="#00008a" stroke-width="0.3"/><circle cx="262.2" cy="52.27" r="2.45" fill="#0000f0" stroke="#00008a" stroke-width="0.3"/><circle cx="270.74" cy="41.47" r="2.45" fill="#0000f0" stroke="#00008a" stroke-width="0.3"/><circle cx="279.26" cy="83.11" r="2.45" fill="#0000f0" stroke="#00008a" stroke-width="0.3"/><circle cx="287.8" cy="197.93" r="2.45" fill="#0000f0" stroke="#00008a" stroke-width="0.3"/><circle cx="296.32" cy="197.37" r="2.45" fill="#0000f0" stroke="#00008a" stroke-width="0.3"/><circle cx="304.85" cy="197.37" r="2.45" fill="#0000f0" stroke="#00008a" stroke-width="0.3"/><circle cx="313.38" cy="166.81" r="2.45" fill="#0000f0" stroke="#00008a" stroke-width="0.3"/><circle cx="321.91" cy="197.37" r="2.45" fill="#0000f0" stroke="#00008a" stroke-width="0.3"/><circle cx="330.45" cy="219.24" r="2.45" fill="#0000f0" stroke="#00008a" stroke-width="0.3"/><circle cx="338.98" cy="219.24" r="2.45" fill="#0000f0" stroke="#00008a" stroke-width="0.3"/><circle cx="347.5" cy="219.24" r="2.45" fill="#0000f0" stroke="#00008a" stroke-width="0.3"/><circle cx="356.04" cy="208.59" r="2.45" fill="#0000f0" stroke="#00008a" stroke-width="0.3"/><circle cx="364.56" cy="208.59" r="2.45" fill="#0000f0" stroke="#00008a" stroke-width="0.3"/><circle cx="373.1" cy="219.24" r="2.45" fill="#0000f0" stroke="#00008a" stroke-width="0.3"/><circle cx="381.62" cy="219.24" r="2.45" fill="#0000f0" stroke="#00008a" stroke-width="0.3"/><circle cx="390.15" cy="229.48" r="2.45" fill="#0000f0" stroke="#00008a" stroke-width="0.3"/><circle cx="398.69" cy="219.24" r="2.45" fill="#0000f0" stroke="#00008a" stroke-width="0.3"/><circle cx="407.22" cy="219.24" r="2.45" fill="#0000f0" stroke="#00008a" stroke-width="0.3"/><circle cx="415.75" cy="229.48" r="2.45" fill="#0000f0" stroke="#00008a" stroke-width="0.3"/><circle cx="424.27" cy="208.59" r="2.45" fill="#0000f0" stroke="#00008a" stroke-width="0.3"/><circle cx="432.8" cy="219.81" r="2.45" fill="#0000f0" stroke="#00008a" stroke-width="0.3"/><circle cx="441.34" cy="229.48" r="2.45" fill="#0000f0" stroke="#00008a" stroke-width="0.3"/><circle cx="449.87" cy="229.48" r="2.45" fill="#0000f0" stroke="#00008a" stroke-width="0.3"/><circle cx="458.39" cy="208.59" r="2.45" fill="#0000f0" stroke="#00008a" stroke-width="0.3"/><circle cx="466.92" cy="219.81" r="2.45" fill="#0000f0" stroke="#00008a" stroke-width="0.3"/><circle cx="475.45" cy="229.48" r="2.45" fill="#0000f0" stroke="#00008a" stroke-width="0.3"/><circle cx="483.98" cy="219.81" r="2.45" fill="#0000f0" stroke="#00008a" stroke-width="0.3"/><circle cx="492.52" cy="229.48" r="2.45" fill="#0000f0" stroke="#00008a" stroke-width="0.3"/><circle cx="501.05" cy="219.81" r="2.45" fill="#0000f0" stroke="#00008a" stroke-width="0.3"/><circle cx="509.58" cy="229.48" r="2.45" fill="#0000f0" stroke="#00008a" stroke-width="0.3"/><circle cx="518.11" cy="229.48" r="2.45" fill="#0000f0" stroke="#00008a" stroke-width="0.3"/><circle cx="526.63" cy="229.48" r="2.45" fill="#0000f0" stroke="#00008a" stroke-width="0.3"/>
<rect x="157.7" y="227.75" width="4.3" height="4.3" transform="rotate(45 159.85 229.9)" fill="#ff0000" stroke="#6a0000" stroke-width="0.9"/><rect x="166.22" y="227.75" width="4.3" height="4.3" transform="rotate(45 168.38 229.9)" fill="#ff0000" stroke="#6a0000" stroke-width="0.9"/><rect x="174.75" y="227.75" width="4.3" height="4.3" transform="rotate(45 176.9 229.9)" fill="#ff0000" stroke="#6a0000" stroke-width="0.9"/><rect x="183.28" y="227.75" width="4.3" height="4.3" transform="rotate(45 185.44 229.9)" fill="#ff0000" stroke="#6a0000" stroke-width="0.9"/><rect x="191.81" y="225.37" width="4.3" height="4.3" transform="rotate(45 193.96 227.52)" fill="#ff0000" stroke="#6a0000" stroke-width="0.9"/><rect x="200.35" y="219.48" width="4.3" height="4.3" transform="rotate(45 202.5 221.63)" fill="#ff0000" stroke="#6a0000" stroke-width="0.9"/><rect x="208.88" y="212.33" width="4.3" height="4.3" transform="rotate(45 211.03 214.48)" fill="#ff0000" stroke="#6a0000" stroke-width="0.9"/><rect x="217.4" y="207.56" width="4.3" height="4.3" transform="rotate(45 219.55 209.71)" fill="#ff0000" stroke="#6a0000" stroke-width="0.9"/><rect x="225.94" y="205.32" width="4.3" height="4.3" transform="rotate(45 228.09 207.47)" fill="#ff0000" stroke="#6a0000" stroke-width="0.9"/><rect x="234.46" y="198.87" width="4.3" height="4.3" transform="rotate(45 236.61 201.02)" fill="#ff0000" stroke="#6a0000" stroke-width="0.9"/><rect x="243" y="195.22" width="4.3" height="4.3" transform="rotate(45 245.15 197.37)" fill="#ff0000" stroke="#6a0000" stroke-width="0.9"/><rect x="251.53" y="191.72" width="4.3" height="4.3" transform="rotate(45 253.68 193.87)" fill="#ff0000" stroke="#6a0000" stroke-width="0.9"/><rect x="260.06" y="188.63" width="4.3" height="4.3" transform="rotate(45 262.2 190.78)" fill="#ff0000" stroke="#6a0000" stroke-width="0.9"/><rect x="268.59" y="188.63" width="4.3" height="4.3" transform="rotate(45 270.74 190.78)" fill="#ff0000" stroke="#6a0000" stroke-width="0.9"/><rect x="277.12" y="185.13" width="4.3" height="4.3" transform="rotate(45 279.26 187.28)" fill="#ff0000" stroke="#6a0000" stroke-width="0.9"/><rect x="285.65" y="184.01" width="4.3" height="4.3" transform="rotate(45 287.8 186.16)" fill="#ff0000" stroke="#6a0000" stroke-width="0.9"/><rect x="294.18" y="184.29" width="4.3" height="4.3" transform="rotate(45 296.32 186.44)" fill="#ff0000" stroke="#6a0000" stroke-width="0.9"/><rect x="302.7" y="185.83" width="4.3" height="4.3" transform="rotate(45 304.85 187.98)" fill="#ff0000" stroke="#6a0000" stroke-width="0.9"/><rect x="311.24" y="180.92" width="4.3" height="4.3" transform="rotate(45 313.38 183.07)" fill="#ff0000" stroke="#6a0000" stroke-width="0.9"/><rect x="319.76" y="167.04" width="4.3" height="4.3" transform="rotate(45 321.91 169.19)" fill="#ff0000" stroke="#6a0000" stroke-width="0.9"/><rect x="328.3" y="164.66" width="4.3" height="4.3" transform="rotate(45 330.45 166.81)" fill="#ff0000" stroke="#6a0000" stroke-width="0.9"/><rect x="336.83" y="182.33" width="4.3" height="4.3" transform="rotate(45 338.98 184.48)" fill="#ff0000" stroke="#6a0000" stroke-width="0.9"/><rect x="345.36" y="187.51" width="4.3" height="4.3" transform="rotate(45 347.5 189.66)" fill="#ff0000" stroke="#6a0000" stroke-width="0.9"/><rect x="353.89" y="189.34" width="4.3" height="4.3" transform="rotate(45 356.04 191.49)" fill="#ff0000" stroke="#6a0000" stroke-width="0.9"/><rect x="362.41" y="192.28" width="4.3" height="4.3" transform="rotate(45 364.56 194.43)" fill="#ff0000" stroke="#6a0000" stroke-width="0.9"/><rect x="370.95" y="189.34" width="4.3" height="4.3" transform="rotate(45 373.1 191.49)" fill="#ff0000" stroke="#6a0000" stroke-width="0.9"/><rect x="379.48" y="196.63" width="4.3" height="4.3" transform="rotate(45 381.62 198.78)" fill="#ff0000" stroke="#6a0000" stroke-width="0.9"/><rect x="388" y="199.71" width="4.3" height="4.3" transform="rotate(45 390.15 201.86)" fill="#ff0000" stroke="#6a0000" stroke-width="0.9"/><rect x="396.54" y="199.71" width="4.3" height="4.3" transform="rotate(45 398.69 201.86)" fill="#ff0000" stroke="#6a0000" stroke-width="0.9"/><rect x="405.07" y="196.63" width="4.3" height="4.3" transform="rotate(45 407.22 198.78)" fill="#ff0000" stroke="#6a0000" stroke-width="0.9"/><rect x="413.6" y="195.5" width="4.3" height="4.3" transform="rotate(45 415.75 197.65)" fill="#ff0000" stroke="#6a0000" stroke-width="0.9"/><rect x="422.12" y="196.91" width="4.3" height="4.3" transform="rotate(45 424.27 199.06)" fill="#ff0000" stroke="#6a0000" stroke-width="0.9"/><rect x="430.65" y="194.24" width="4.3" height="4.3" transform="rotate(45 432.8 196.39)" fill="#ff0000" stroke="#6a0000" stroke-width="0.9"/><rect x="439.19" y="195.78" width="4.3" height="4.3" transform="rotate(45 441.34 197.93)" fill="#ff0000" stroke="#6a0000" stroke-width="0.9"/><rect x="447.72" y="194.24" width="4.3" height="4.3" transform="rotate(45 449.87 196.39)" fill="#ff0000" stroke="#6a0000" stroke-width="0.9"/><rect x="456.25" y="188.77" width="4.3" height="4.3" transform="rotate(45 458.39 190.92)" fill="#ff0000" stroke="#6a0000" stroke-width="0.9"/><rect x="464.77" y="183.31" width="4.3" height="4.3" transform="rotate(45 466.92 185.46)" fill="#ff0000" stroke="#6a0000" stroke-width="0.9"/><rect x="473.3" y="187.23" width="4.3" height="4.3" transform="rotate(45 475.45 189.38)" fill="#ff0000" stroke="#6a0000" stroke-width="0.9"/><rect x="481.83" y="185.69" width="4.3" height="4.3" transform="rotate(45 483.98 187.84)" fill="#ff0000" stroke="#6a0000" stroke-width="0.9"/><rect x="490.37" y="184.29" width="4.3" height="4.3" transform="rotate(45 492.52 186.44)" fill="#ff0000" stroke="#6a0000" stroke-width="0.9"/><rect x="498.9" y="173.63" width="4.3" height="4.3" transform="rotate(45 501.05 175.78)" fill="#ff0000" stroke="#6a0000" stroke-width="0.9"/><rect x="507.43" y="167.6" width="4.3" height="4.3" transform="rotate(45 509.58 169.75)" fill="#ff0000" stroke="#6a0000" stroke-width="0.9"/><rect x="515.96" y="216.11" width="4.3" height="4.3" transform="rotate(45 518.11 218.26)" fill="#ff0000" stroke="#6a0000" stroke-width="0.9"/><rect x="524.48" y="227.33" width="4.3" height="4.3" transform="rotate(45 526.63 229.48)" fill="#ff0000" stroke="#6a0000" stroke-width="0.9"/>
<circle cx="108.66" cy="229.9" r="2.3" fill="#f7841e" stroke="#6b3a10" stroke-width="0.65"/><circle cx="117.19" cy="229.9" r="2.3" fill="#f7841e" stroke="#6b3a10" stroke-width="0.65"/><circle cx="125.73" cy="229.9" r="2.3" fill="#f7841e" stroke="#6b3a10" stroke-width="0.65"/><circle cx="134.25" cy="229.9" r="2.3" fill="#f7841e" stroke="#6b3a10" stroke-width="0.65"/><circle cx="142.79" cy="229.9" r="2.3" fill="#f7841e" stroke="#6b3a10" stroke-width="0.65"/><circle cx="151.31" cy="229.9" r="2.3" fill="#f7841e" stroke="#6b3a10" stroke-width="0.65"/><circle cx="159.85" cy="229.9" r="2.3" fill="#f7841e" stroke="#6b3a10" stroke-width="0.65"/><circle cx="168.38" cy="229.9" r="2.3" fill="#f7841e" stroke="#6b3a10" stroke-width="0.65"/><circle cx="176.9" cy="228.5" r="2.3" fill="#f7841e" stroke="#6b3a10" stroke-width="0.65"/><circle cx="185.44" cy="228.5" r="2.3" fill="#f7841e" stroke="#6b3a10" stroke-width="0.65"/><circle cx="193.96" cy="224.71" r="2.3" fill="#f7841e" stroke="#6b3a10" stroke-width="0.65"/><circle cx="202.5" cy="216.86" r="2.3" fill="#f7841e" stroke="#6b3a10" stroke-width="0.65"/><circle cx="211.03" cy="208.59" r="2.3" fill="#f7841e" stroke="#6b3a10" stroke-width="0.65"/><circle cx="219.55" cy="219.95" r="2.3" fill="#f7841e" stroke="#6b3a10" stroke-width="0.65"/><circle cx="228.09" cy="210.97" r="2.3" fill="#f7841e" stroke="#6b3a10" stroke-width="0.65"/><circle cx="236.61" cy="203.4" r="2.3" fill="#f7841e" stroke="#6b3a10" stroke-width="0.65"/><circle cx="245.15" cy="202.28" r="2.3" fill="#f7841e" stroke="#6b3a10" stroke-width="0.65"/><circle cx="253.68" cy="199.62" r="2.3" fill="#f7841e" stroke="#6b3a10" stroke-width="0.65"/><circle cx="262.2" cy="194.85" r="2.3" fill="#f7841e" stroke="#6b3a10" stroke-width="0.65"/><circle cx="270.74" cy="209.71" r="2.3" fill="#f7841e" stroke="#6b3a10" stroke-width="0.65"/><circle cx="279.26" cy="187.98" r="2.3" fill="#f7841e" stroke="#6b3a10" stroke-width="0.65"/><circle cx="287.8" cy="158.96" r="2.3" fill="#f7841e" stroke="#6b3a10" stroke-width="0.65"/><circle cx="296.32" cy="172" r="2.3" fill="#f7841e" stroke="#6b3a10" stroke-width="0.65"/><circle cx="304.85" cy="212.09" r="2.3" fill="#f7841e" stroke="#6b3a10" stroke-width="0.65"/><circle cx="313.38" cy="210.97" r="2.3" fill="#f7841e" stroke="#6b3a10" stroke-width="0.65"/><circle cx="321.91" cy="213.78" r="2.3" fill="#f7841e" stroke="#6b3a10" stroke-width="0.65"/><circle cx="330.45" cy="194.85" r="2.3" fill="#f7841e" stroke="#6b3a10" stroke-width="0.65"/><circle cx="338.98" cy="180.27" r="2.3" fill="#f7841e" stroke="#6b3a10" stroke-width="0.65"/><circle cx="347.5" cy="158.96" r="2.3" fill="#f7841e" stroke="#6b3a10" stroke-width="0.65"/><circle cx="356.04" cy="161.76" r="2.3" fill="#f7841e" stroke="#6b3a10" stroke-width="0.65"/><circle cx="364.56" cy="166.53" r="2.3" fill="#f7841e" stroke="#6b3a10" stroke-width="0.65"/><circle cx="373.1" cy="198.64" r="2.3" fill="#f7841e" stroke="#6b3a10" stroke-width="0.65"/><circle cx="381.62" cy="208.59" r="2.3" fill="#f7841e" stroke="#6b3a10" stroke-width="0.65"/><circle cx="390.15" cy="216.86" r="2.3" fill="#f7841e" stroke="#6b3a10" stroke-width="0.65"/><circle cx="398.69" cy="216.16" r="2.3" fill="#f7841e" stroke="#6b3a10" stroke-width="0.65"/><circle cx="407.22" cy="216.86" r="2.3" fill="#f7841e" stroke="#6b3a10" stroke-width="0.65"/><circle cx="415.75" cy="212.09" r="2.3" fill="#f7841e" stroke="#6b3a10" stroke-width="0.65"/><circle cx="424.27" cy="216.72" r="2.3" fill="#f7841e" stroke="#6b3a10" stroke-width="0.65"/><circle cx="432.8" cy="207.75" r="2.3" fill="#f7841e" stroke="#6b3a10" stroke-width="0.65"/><circle cx="441.34" cy="205.51" r="2.3" fill="#f7841e" stroke="#6b3a10" stroke-width="0.65"/><circle cx="449.87" cy="185.88" r="2.3" fill="#f7841e" stroke="#6b3a10" stroke-width="0.65"/><circle cx="458.39" cy="140.31" r="2.3" fill="#f7841e" stroke="#6b3a10" stroke-width="0.65"/><circle cx="466.92" cy="99.93" r="2.3" fill="#f7841e" stroke="#6b3a10" stroke-width="0.65"/><circle cx="475.45" cy="145.36" r="2.3" fill="#f7841e" stroke="#6b3a10" stroke-width="0.65"/><circle cx="483.98" cy="142.42" r="2.3" fill="#f7841e" stroke="#6b3a10" stroke-width="0.65"/><circle cx="492.52" cy="196.95" r="2.3" fill="#f7841e" stroke="#6b3a10" stroke-width="0.65"/><circle cx="501.05" cy="213.64" r="2.3" fill="#f7841e" stroke="#6b3a10" stroke-width="0.65"/><circle cx="509.58" cy="212.23" r="2.3" fill="#f7841e" stroke="#6b3a10" stroke-width="0.65"/><circle cx="518.11" cy="220.37" r="2.3" fill="#f7841e" stroke="#6b3a10" stroke-width="0.65"/><circle cx="526.63" cy="229.48" r="2.3" fill="#f7841e" stroke="#6b3a10" stroke-width="0.65"/>
<polyline points="62.26,463.6 63.97,463.6 65.67,463.6 67.38,463.6 69.09,463.6 70.79,463.6 72.5,463.6 74.2,463.6 75.91,463.6 77.62,463.6 79.32,463.6 81.03,460.66 82.73,456.59 84.44,451.26 86.15,439.49 87.85,415.09 89.56,393.78 91.26,343.73 92.97,309.66 94.68,285.97 96.38,299.57 98.09,320.74 99.79,353.82 101.5,385.09 103.21,409.34 104.91,422.94 106.62,435 108.32,442.15 110.03,446.36 111.74,449.16 113.44,450.21 115.15,451.26 116.85,453.37 118.56,454.84 120.27,456.31 121.97,457.71 123.68,458.41 125.38,459.11 127.09,459.88 128.8,460.66 130.5,460.98 132.21,461.3 133.91,461.62 135.62,461.93 137.33,462.25 139.03,462.51 140.74,462.62 142.44,462.74 144.15,462.85 145.86,462.96 147.56,463.07 149.27,463.19 150.97,463.3 152.68,463.41 154.39,463.52 156.09,463.6 157.8,463.6 159.5,463.6 161.21,463.6 162.92,463.6 164.62,463.6 166.33,463.6 168.03,463.6 169.74,463.6 171.45,463.6 173.15,463.6 174.86,463.6 176.56,463.6 178.27,463.6 179.98,463.6" fill="none" stroke="#606060" stroke-width="0.7"/>
<circle cx="62.26" cy="463.6" r="1.8" fill="#ffffff" stroke="#606060" stroke-width="0.7"/><circle cx="63.97" cy="463.6" r="1.8" fill="#ffffff" stroke="#606060" stroke-width="0.7"/><circle cx="65.67" cy="463.6" r="1.8" fill="#ffffff" stroke="#606060" stroke-width="0.7"/><circle cx="67.38" cy="463.6" r="1.8" fill="#ffffff" stroke="#606060" stroke-width="0.7"/><circle cx="69.09" cy="463.6" r="1.8" fill="#ffffff" stroke="#606060" stroke-width="0.7"/><circle cx="70.79" cy="463.6" r="1.8" fill="#ffffff" stroke="#606060" stroke-width="0.7"/><circle cx="72.5" cy="463.6" r="1.8" fill="#ffffff" stroke="#606060" stroke-width="0.7"/><circle cx="74.2" cy="463.6" r="1.8" fill="#ffffff" stroke="#606060" stroke-width="0.7"/><circle cx="75.91" cy="463.6" r="1.8" fill="#ffffff" stroke="#606060" stroke-width="0.7"/><circle cx="77.62" cy="463.6" r="1.8" fill="#ffffff" stroke="#606060" stroke-width="0.7"/><circle cx="79.32" cy="463.6" r="1.8" fill="#ffffff" stroke="#606060" stroke-width="0.7"/><circle cx="81.03" cy="460.66" r="1.8" fill="#ffffff" stroke="#606060" stroke-width="0.7"/><circle cx="82.73" cy="456.59" r="1.8" fill="#ffffff" stroke="#606060" stroke-width="0.7"/><circle cx="84.44" cy="451.26" r="1.8" fill="#ffffff" stroke="#606060" stroke-width="0.7"/><circle cx="86.15" cy="439.49" r="1.8" fill="#ffffff" stroke="#606060" stroke-width="0.7"/><circle cx="87.85" cy="415.09" r="1.8" fill="#ffffff" stroke="#606060" stroke-width="0.7"/><circle cx="89.56" cy="393.78" r="1.8" fill="#ffffff" stroke="#606060" stroke-width="0.7"/><circle cx="91.26" cy="343.73" r="1.8" fill="#ffffff" stroke="#606060" stroke-width="0.7"/><circle cx="92.97" cy="309.66" r="1.8" fill="#ffffff" stroke="#606060" stroke-width="0.7"/><circle cx="94.68" cy="285.97" r="1.8" fill="#ffffff" stroke="#606060" stroke-width="0.7"/><circle cx="96.38" cy="299.57" r="1.8" fill="#ffffff" stroke="#606060" stroke-width="0.7"/><circle cx="98.09" cy="320.74" r="1.8" fill="#ffffff" stroke="#606060" stroke-width="0.7"/><circle cx="99.79" cy="353.82" r="1.8" fill="#ffffff" stroke="#606060" stroke-width="0.7"/><circle cx="101.5" cy="385.09" r="1.8" fill="#ffffff" stroke="#606060" stroke-width="0.7"/><circle cx="103.21" cy="409.34" r="1.8" fill="#ffffff" stroke="#606060" stroke-width="0.7"/><circle cx="104.91" cy="422.94" r="1.8" fill="#ffffff" stroke="#606060" stroke-width="0.7"/><circle cx="106.62" cy="435" r="1.8" fill="#ffffff" stroke="#606060" stroke-width="0.7"/><circle cx="108.32" cy="442.15" r="1.8" fill="#ffffff" stroke="#606060" stroke-width="0.7"/><circle cx="110.03" cy="446.36" r="1.8" fill="#ffffff" stroke="#606060" stroke-width="0.7"/><circle cx="111.74" cy="449.16" r="1.8" fill="#ffffff" stroke="#606060" stroke-width="0.7"/><circle cx="113.44" cy="450.21" r="1.8" fill="#ffffff" stroke="#606060" stroke-width="0.7"/><circle cx="115.15" cy="451.26" r="1.8" fill="#ffffff" stroke="#606060" stroke-width="0.7"/><circle cx="116.85" cy="453.37" r="1.8" fill="#ffffff" stroke="#606060" stroke-width="0.7"/><circle cx="118.56" cy="454.84" r="1.8" fill="#ffffff" stroke="#606060" stroke-width="0.7"/><circle cx="120.27" cy="456.31" r="1.8" fill="#ffffff" stroke="#606060" stroke-width="0.7"/><circle cx="121.97" cy="457.71" r="1.8" fill="#ffffff" stroke="#606060" stroke-width="0.7"/><circle cx="123.68" cy="458.41" r="1.8" fill="#ffffff" stroke="#606060" stroke-width="0.7"/><circle cx="125.38" cy="459.11" r="1.8" fill="#ffffff" stroke="#606060" stroke-width="0.7"/><circle cx="127.09" cy="459.88" r="1.8" fill="#ffffff" stroke="#606060" stroke-width="0.7"/><circle cx="128.8" cy="460.66" r="1.8" fill="#ffffff" stroke="#606060" stroke-width="0.7"/><circle cx="130.5" cy="460.98" r="1.8" fill="#ffffff" stroke="#606060" stroke-width="0.7"/><circle cx="132.21" cy="461.3" r="1.8" fill="#ffffff" stroke="#606060" stroke-width="0.7"/><circle cx="133.91" cy="461.62" r="1.8" fill="#ffffff" stroke="#606060" stroke-width="0.7"/><circle cx="135.62" cy="461.93" r="1.8" fill="#ffffff" stroke="#606060" stroke-width="0.7"/><circle cx="137.33" cy="462.25" r="1.8" fill="#ffffff" stroke="#606060" stroke-width="0.7"/><circle cx="139.03" cy="462.51" r="1.8" fill="#ffffff" stroke="#606060" stroke-width="0.7"/><circle cx="140.74" cy="462.62" r="1.8" fill="#ffffff" stroke="#606060" stroke-width="0.7"/><circle cx="142.44" cy="462.74" r="1.8" fill="#ffffff" stroke="#606060" stroke-width="0.7"/><circle cx="144.15" cy="462.85" r="1.8" fill="#ffffff" stroke="#606060" stroke-width="0.7"/><circle cx="145.86" cy="462.96" r="1.8" fill="#ffffff" stroke="#606060" stroke-width="0.7"/><circle cx="147.56" cy="463.07" r="1.8" fill="#ffffff" stroke="#606060" stroke-width="0.7"/><circle cx="149.27" cy="463.19" r="1.8" fill="#ffffff" stroke="#606060" stroke-width="0.7"/><circle cx="150.97" cy="463.3" r="1.8" fill="#ffffff" stroke="#606060" stroke-width="0.7"/><circle cx="152.68" cy="463.41" r="1.8" fill="#ffffff" stroke="#606060" stroke-width="0.7"/><circle cx="154.39" cy="463.52" r="1.8" fill="#ffffff" stroke="#606060" stroke-width="0.7"/><circle cx="156.09" cy="463.6" r="1.8" fill="#ffffff" stroke="#606060" stroke-width="0.7"/><circle cx="157.8" cy="463.6" r="1.8" fill="#ffffff" stroke="#606060" stroke-width="0.7"/><circle cx="159.5" cy="463.6" r="1.8" fill="#ffffff" stroke="#606060" stroke-width="0.7"/><circle cx="161.21" cy="463.6" r="1.8" fill="#ffffff" stroke="#606060" stroke-width="0.7"/><circle cx="162.92" cy="463.6" r="1.8" fill="#ffffff" stroke="#606060" stroke-width="0.7"/><circle cx="164.62" cy="463.6" r="1.8" fill="#ffffff" stroke="#606060" stroke-width="0.7"/><circle cx="166.33" cy="463.6" r="1.8" fill="#ffffff" stroke="#606060" stroke-width="0.7"/><circle cx="168.03" cy="463.6" r="1.8" fill="#ffffff" stroke="#606060" stroke-width="0.7"/><circle cx="169.74" cy="463.6" r="1.8" fill="#ffffff" stroke="#606060" stroke-width="0.7"/><circle cx="171.45" cy="463.6" r="1.8" fill="#ffffff" stroke="#606060" stroke-width="0.7"/><circle cx="173.15" cy="463.6" r="1.8" fill="#ffffff" stroke="#606060" stroke-width="0.7"/><circle cx="174.86" cy="463.6" r="1.8" fill="#ffffff" stroke="#606060" stroke-width="0.7"/><circle cx="176.56" cy="463.6" r="1.8" fill="#ffffff" stroke="#606060" stroke-width="0.7"/><circle cx="178.27" cy="463.6" r="1.8" fill="#ffffff" stroke="#606060" stroke-width="0.7"/><circle cx="179.98" cy="463.6" r="1.8" fill="#ffffff" stroke="#606060" stroke-width="0.7"/>
<polyline points="62.26,463.6 63.97,463.6 65.67,463.6 67.38,463.6 69.09,463.6 70.79,463.6 72.5,463.6 74.2,463.6 75.91,463.6 77.62,463.6 79.32,463.6 81.03,463.6 82.73,463.6 84.44,463.6 86.15,463.6 87.85,463.6 89.56,459.39 91.26,449.86 92.97,436.4 94.68,420 96.38,404.44 98.09,388.31 99.79,382.28 101.5,379.9 103.21,384.39 104.91,386.49 106.62,381.16 108.32,371.35 110.03,367.84 111.74,380.88 113.44,395.18 115.15,410.88 116.85,422.94 118.56,430.79 120.27,436.4 121.97,440.61 123.68,443.55 125.38,444.95 127.09,449.16 128.8,451.96 130.5,452.94 132.21,453.93 133.91,454.91 135.62,455.79 137.33,456.67 139.03,457.49 140.74,458.15 142.44,458.8 144.15,459.44 145.86,459.85 147.56,460.26 149.27,460.67 150.97,461.08 152.68,461.5 154.39,461.91 156.09,462.23 157.8,462.34 159.5,462.46 161.21,462.57 162.92,462.68 164.62,462.79 166.33,462.9 168.03,463.02 169.74,463.13 171.45,463.24 173.15,463.33 174.86,463.36 176.56,463.38 178.27,463.41 179.98,463.44 181.68,463.47 183.39,463.5 185.09,463.52 186.8,463.55 188.51,463.58 190.21,463.6 191.92,463.6 193.62,463.6 195.33,463.6 197.04,463.6" fill="none" stroke="#7a7a7a" stroke-width="0.7"/>
<circle cx="62.26" cy="463.6" r="1.8" fill="#d8d8d8" stroke="#7a7a7a" stroke-width="0.7"/><circle cx="63.97" cy="463.6" r="1.8" fill="#d8d8d8" stroke="#7a7a7a" stroke-width="0.7"/><circle cx="65.67" cy="463.6" r="1.8" fill="#d8d8d8" stroke="#7a7a7a" stroke-width="0.7"/><circle cx="67.38" cy="463.6" r="1.8" fill="#d8d8d8" stroke="#7a7a7a" stroke-width="0.7"/><circle cx="69.09" cy="463.6" r="1.8" fill="#d8d8d8" stroke="#7a7a7a" stroke-width="0.7"/><circle cx="70.79" cy="463.6" r="1.8" fill="#d8d8d8" stroke="#7a7a7a" stroke-width="0.7"/><circle cx="72.5" cy="463.6" r="1.8" fill="#d8d8d8" stroke="#7a7a7a" stroke-width="0.7"/><circle cx="74.2" cy="463.6" r="1.8" fill="#d8d8d8" stroke="#7a7a7a" stroke-width="0.7"/><circle cx="75.91" cy="463.6" r="1.8" fill="#d8d8d8" stroke="#7a7a7a" stroke-width="0.7"/><circle cx="77.62" cy="463.6" r="1.8" fill="#d8d8d8" stroke="#7a7a7a" stroke-width="0.7"/><circle cx="79.32" cy="463.6" r="1.8" fill="#d8d8d8" stroke="#7a7a7a" stroke-width="0.7"/><circle cx="81.03" cy="463.6" r="1.8" fill="#d8d8d8" stroke="#7a7a7a" stroke-width="0.7"/><circle cx="82.73" cy="463.6" r="1.8" fill="#d8d8d8" stroke="#7a7a7a" stroke-width="0.7"/><circle cx="84.44" cy="463.6" r="1.8" fill="#d8d8d8" stroke="#7a7a7a" stroke-width="0.7"/><circle cx="86.15" cy="463.6" r="1.8" fill="#d8d8d8" stroke="#7a7a7a" stroke-width="0.7"/><circle cx="87.85" cy="463.6" r="1.8" fill="#d8d8d8" stroke="#7a7a7a" stroke-width="0.7"/><circle cx="89.56" cy="459.39" r="1.8" fill="#d8d8d8" stroke="#7a7a7a" stroke-width="0.7"/><circle cx="91.26" cy="449.86" r="1.8" fill="#d8d8d8" stroke="#7a7a7a" stroke-width="0.7"/><circle cx="92.97" cy="436.4" r="1.8" fill="#d8d8d8" stroke="#7a7a7a" stroke-width="0.7"/><circle cx="94.68" cy="420" r="1.8" fill="#d8d8d8" stroke="#7a7a7a" stroke-width="0.7"/><circle cx="96.38" cy="404.44" r="1.8" fill="#d8d8d8" stroke="#7a7a7a" stroke-width="0.7"/><circle cx="98.09" cy="388.31" r="1.8" fill="#d8d8d8" stroke="#7a7a7a" stroke-width="0.7"/><circle cx="99.79" cy="382.28" r="1.8" fill="#d8d8d8" stroke="#7a7a7a" stroke-width="0.7"/><circle cx="101.5" cy="379.9" r="1.8" fill="#d8d8d8" stroke="#7a7a7a" stroke-width="0.7"/><circle cx="103.21" cy="384.39" r="1.8" fill="#d8d8d8" stroke="#7a7a7a" stroke-width="0.7"/><circle cx="104.91" cy="386.49" r="1.8" fill="#d8d8d8" stroke="#7a7a7a" stroke-width="0.7"/><circle cx="106.62" cy="381.16" r="1.8" fill="#d8d8d8" stroke="#7a7a7a" stroke-width="0.7"/><circle cx="108.32" cy="371.35" r="1.8" fill="#d8d8d8" stroke="#7a7a7a" stroke-width="0.7"/><circle cx="110.03" cy="367.84" r="1.8" fill="#d8d8d8" stroke="#7a7a7a" stroke-width="0.7"/><circle cx="111.74" cy="380.88" r="1.8" fill="#d8d8d8" stroke="#7a7a7a" stroke-width="0.7"/><circle cx="113.44" cy="395.18" r="1.8" fill="#d8d8d8" stroke="#7a7a7a" stroke-width="0.7"/><circle cx="115.15" cy="410.88" r="1.8" fill="#d8d8d8" stroke="#7a7a7a" stroke-width="0.7"/><circle cx="116.85" cy="422.94" r="1.8" fill="#d8d8d8" stroke="#7a7a7a" stroke-width="0.7"/><circle cx="118.56" cy="430.79" r="1.8" fill="#d8d8d8" stroke="#7a7a7a" stroke-width="0.7"/><circle cx="120.27" cy="436.4" r="1.8" fill="#d8d8d8" stroke="#7a7a7a" stroke-width="0.7"/><circle cx="121.97" cy="440.61" r="1.8" fill="#d8d8d8" stroke="#7a7a7a" stroke-width="0.7"/><circle cx="123.68" cy="443.55" r="1.8" fill="#d8d8d8" stroke="#7a7a7a" stroke-width="0.7"/><circle cx="125.38" cy="444.95" r="1.8" fill="#d8d8d8" stroke="#7a7a7a" stroke-width="0.7"/><circle cx="127.09" cy="449.16" r="1.8" fill="#d8d8d8" stroke="#7a7a7a" stroke-width="0.7"/><circle cx="128.8" cy="451.96" r="1.8" fill="#d8d8d8" stroke="#7a7a7a" stroke-width="0.7"/><circle cx="130.5" cy="452.94" r="1.8" fill="#d8d8d8" stroke="#7a7a7a" stroke-width="0.7"/><circle cx="132.21" cy="453.93" r="1.8" fill="#d8d8d8" stroke="#7a7a7a" stroke-width="0.7"/><circle cx="133.91" cy="454.91" r="1.8" fill="#d8d8d8" stroke="#7a7a7a" stroke-width="0.7"/><circle cx="135.62" cy="455.79" r="1.8" fill="#d8d8d8" stroke="#7a7a7a" stroke-width="0.7"/><circle cx="137.33" cy="456.67" r="1.8" fill="#d8d8d8" stroke="#7a7a7a" stroke-width="0.7"/><circle cx="139.03" cy="457.49" r="1.8" fill="#d8d8d8" stroke="#7a7a7a" stroke-width="0.7"/><circle cx="140.74" cy="458.15" r="1.8" fill="#d8d8d8" stroke="#7a7a7a" stroke-width="0.7"/><circle cx="142.44" cy="458.8" r="1.8" fill="#d8d8d8" stroke="#7a7a7a" stroke-width="0.7"/><circle cx="144.15" cy="459.44" r="1.8" fill="#d8d8d8" stroke="#7a7a7a" stroke-width="0.7"/><circle cx="145.86" cy="459.85" r="1.8" fill="#d8d8d8" stroke="#7a7a7a" stroke-width="0.7"/><circle cx="147.56" cy="460.26" r="1.8" fill="#d8d8d8" stroke="#7a7a7a" stroke-width="0.7"/><circle cx="149.27" cy="460.67" r="1.8" fill="#d8d8d8" stroke="#7a7a7a" stroke-width="0.7"/><circle cx="150.97" cy="461.08" r="1.8" fill="#d8d8d8" stroke="#7a7a7a" stroke-width="0.7"/><circle cx="152.68" cy="461.5" r="1.8" fill="#d8d8d8" stroke="#7a7a7a" stroke-width="0.7"/><circle cx="154.39" cy="461.91" r="1.8" fill="#d8d8d8" stroke="#7a7a7a" stroke-width="0.7"/><circle cx="156.09" cy="462.23" r="1.8" fill="#d8d8d8" stroke="#7a7a7a" stroke-width="0.7"/><circle cx="157.8" cy="462.34" r="1.8" fill="#d8d8d8" stroke="#7a7a7a" stroke-width="0.7"/><circle cx="159.5" cy="462.46" r="1.8" fill="#d8d8d8" stroke="#7a7a7a" stroke-width="0.7"/><circle cx="161.21" cy="462.57" r="1.8" fill="#d8d8d8" stroke="#7a7a7a" stroke-width="0.7"/><circle cx="162.92" cy="462.68" r="1.8" fill="#d8d8d8" stroke="#7a7a7a" stroke-width="0.7"/><circle cx="164.62" cy="462.79" r="1.8" fill="#d8d8d8" stroke="#7a7a7a" stroke-width="0.7"/><circle cx="166.33" cy="462.9" r="1.8" fill="#d8d8d8" stroke="#7a7a7a" stroke-width="0.7"/><circle cx="168.03" cy="463.02" r="1.8" fill="#d8d8d8" stroke="#7a7a7a" stroke-width="0.7"/><circle cx="169.74" cy="463.13" r="1.8" fill="#d8d8d8" stroke="#7a7a7a" stroke-width="0.7"/><circle cx="171.45" cy="463.24" r="1.8" fill="#d8d8d8" stroke="#7a7a7a" stroke-width="0.7"/><circle cx="173.15" cy="463.33" r="1.8" fill="#d8d8d8" stroke="#7a7a7a" stroke-width="0.7"/><circle cx="174.86" cy="463.36" r="1.8" fill="#d8d8d8" stroke="#7a7a7a" stroke-width="0.7"/><circle cx="176.56" cy="463.38" r="1.8" fill="#d8d8d8" stroke="#7a7a7a" stroke-width="0.7"/><circle cx="178.27" cy="463.41" r="1.8" fill="#d8d8d8" stroke="#7a7a7a" stroke-width="0.7"/><circle cx="179.98" cy="463.44" r="1.8" fill="#d8d8d8" stroke="#7a7a7a" stroke-width="0.7"/><circle cx="181.68" cy="463.47" r="1.8" fill="#d8d8d8" stroke="#7a7a7a" stroke-width="0.7"/><circle cx="183.39" cy="463.5" r="1.8" fill="#d8d8d8" stroke="#7a7a7a" stroke-width="0.7"/><circle cx="185.09" cy="463.52" r="1.8" fill="#d8d8d8" stroke="#7a7a7a" stroke-width="0.7"/><circle cx="186.8" cy="463.55" r="1.8" fill="#d8d8d8" stroke="#7a7a7a" stroke-width="0.7"/><circle cx="188.51" cy="463.58" r="1.8" fill="#d8d8d8" stroke="#7a7a7a" stroke-width="0.7"/><circle cx="190.21" cy="463.6" r="1.8" fill="#d8d8d8" stroke="#7a7a7a" stroke-width="0.7"/><circle cx="191.92" cy="463.6" r="1.8" fill="#d8d8d8" stroke="#7a7a7a" stroke-width="0.7"/><circle cx="193.62" cy="463.6" r="1.8" fill="#d8d8d8" stroke="#7a7a7a" stroke-width="0.7"/><circle cx="195.33" cy="463.6" r="1.8" fill="#d8d8d8" stroke="#7a7a7a" stroke-width="0.7"/><circle cx="197.04" cy="463.6" r="1.8" fill="#d8d8d8" stroke="#7a7a7a" stroke-width="0.7"/>
<polyline points="62.26,463.6 63.97,463.6 65.67,463.6 67.38,463.6 69.09,463.6 70.79,463.6 72.5,463.6 74.2,463.6 75.91,463.6 77.62,463.6 79.32,463.6 81.03,463.6 82.73,463.6 84.44,463.6 86.15,463.6 87.85,463.6 89.56,463.6 91.26,463.6 92.97,459.95 94.68,456.31 96.38,454.14 98.09,451.96 99.79,450.56 101.5,443.55 103.21,442.08 104.91,440.61 106.62,432.76 108.32,423.64 110.03,414.39 111.74,406.12 113.44,398.13 115.15,389.43 116.85,377.38 118.56,376.54 120.27,367.42 121.97,381.16 123.68,390.7 125.38,398.13 127.09,408.64 128.8,413.69 130.5,420.7 132.21,427.85 133.91,435 135.62,438.43 137.33,441.87 139.03,443.59 140.74,446.65 142.44,447.55 144.15,451.44 145.86,451.45 147.56,453.6 149.27,454.7 150.97,454.74 152.68,455.58 154.39,456.45 156.09,457.91 157.8,458.23 159.5,457.33 161.21,457.88 162.92,457.86 164.62,457.75 166.33,458.44 168.03,459.51 169.74,459.31 171.45,459.25 173.15,460.11 174.86,459.77 176.56,459.72 178.27,459.76 179.98,460.39 181.68,460.77 183.39,461.92 185.09,461.98 186.8,462.02 188.51,462.01 190.21,462.24 191.92,462.49 193.62,462.52 195.33,462.64 197.04,462.75 198.74,462.9 200.45,462.93 202.15,462.98 203.86,462.99 205.57,463.05 207.27,463.15 208.98,463.21 210.68,463.24 212.39,463.29 214.1,463.37 215.8,463.43 217.51,463.49 219.21,463.56 220.92,463.6 222.63,463.6 224.33,463.6 226.04,463.6 227.74,463.6 229.45,463.6 231.16,463.6 232.86,463.6 234.57,463.6 236.27,463.6 237.98,463.6 239.69,463.6 241.39,463.6 243.1,463.6 244.8,463.6 246.51,463.6 248.22,463.6 249.92,463.6 251.63,463.6 253.33,463.6 255.04,463.6 256.75,463.6 258.45,463.6 260.16,463.6 261.86,463.6 263.57,463.6 265.28,463.6 266.98,463.6 268.69,463.6 270.39,463.6 272.1,463.6 273.81,463.6 275.51,463.6 277.22,463.6 278.92,463.6 280.63,463.6 282.34,463.6 284.04,463.6 285.75,463.6 287.45,463.6 289.16,463.6 290.87,463.6 292.57,463.6 294.28,463.6 295.98,463.6 297.69,463.6 299.4,463.6 301.1,463.6 302.81,463.6 304.51,463.6 306.22,463.6 307.93,463.6 309.63,463.6 311.34,463.6 313.04,463.6 314.75,463.6 316.46,463.6 318.16,463.6 319.87,463.6 321.57,463.6 323.28,463.6 324.99,463.6 326.69,463.6 328.4,463.6 330.1,463.6 331.81,463.6 333.52,463.6 335.22,463.6 336.93,463.6 338.63,463.6 340.34,463.6 342.05,463.6 343.75,463.6 345.46,463.6 347.16,463.6 348.87,463.6 350.58,463.6 352.28,463.6 353.99,463.6 355.69,463.6 357.4,463.6 359.11,463.6 360.81,463.6 362.52,463.6" fill="none" stroke="#000" stroke-width="0.4"/>
<circle cx="62.26" cy="463.6" r="1.5" fill="#000"/><circle cx="63.97" cy="463.6" r="1.5" fill="#000"/><circle cx="65.67" cy="463.6" r="1.5" fill="#000"/><circle cx="67.38" cy="463.6" r="1.5" fill="#000"/><circle cx="69.09" cy="463.6" r="1.5" fill="#000"/><circle cx="70.79" cy="463.6" r="1.5" fill="#000"/><circle cx="72.5" cy="463.6" r="1.5" fill="#000"/><circle cx="74.2" cy="463.6" r="1.5" fill="#000"/><circle cx="75.91" cy="463.6" r="1.5" fill="#000"/><circle cx="77.62" cy="463.6" r="1.5" fill="#000"/><circle cx="79.32" cy="463.6" r="1.5" fill="#000"/><circle cx="81.03" cy="463.6" r="1.5" fill="#000"/><circle cx="82.73" cy="463.6" r="1.5" fill="#000"/><circle cx="84.44" cy="463.6" r="1.5" fill="#000"/><circle cx="86.15" cy="463.6" r="1.5" fill="#000"/><circle cx="87.85" cy="463.6" r="1.5" fill="#000"/><circle cx="89.56" cy="463.6" r="1.5" fill="#000"/><circle cx="91.26" cy="463.6" r="1.5" fill="#000"/><circle cx="92.97" cy="459.95" r="1.8" fill="#000"/><circle cx="94.68" cy="456.31" r="1.8" fill="#000"/><circle cx="96.38" cy="454.14" r="1.8" fill="#000"/><circle cx="98.09" cy="451.96" r="1.8" fill="#000"/><circle cx="99.79" cy="450.56" r="1.8" fill="#000"/><circle cx="101.5" cy="443.55" r="1.8" fill="#000"/><circle cx="103.21" cy="442.08" r="1.8" fill="#000"/><circle cx="104.91" cy="440.61" r="1.8" fill="#000"/><circle cx="106.62" cy="432.76" r="1.8" fill="#000"/><circle cx="108.32" cy="423.64" r="1.8" fill="#000"/><circle cx="110.03" cy="414.39" r="1.8" fill="#000"/><circle cx="111.74" cy="406.12" r="1.8" fill="#000"/><circle cx="113.44" cy="398.13" r="1.8" fill="#000"/><circle cx="115.15" cy="389.43" r="1.8" fill="#000"/><circle cx="116.85" cy="377.38" r="1.8" fill="#000"/><circle cx="118.56" cy="376.54" r="1.8" fill="#000"/><circle cx="120.27" cy="367.42" r="1.8" fill="#000"/><circle cx="121.97" cy="381.16" r="1.8" fill="#000"/><circle cx="123.68" cy="390.7" r="1.8" fill="#000"/><circle cx="125.38" cy="398.13" r="1.8" fill="#000"/><circle cx="127.09" cy="408.64" r="1.8" fill="#000"/><circle cx="128.8" cy="413.69" r="1.8" fill="#000"/><circle cx="130.5" cy="420.7" r="1.8" fill="#000"/><circle cx="132.21" cy="427.85" r="1.8" fill="#000"/><circle cx="133.91" cy="435" r="1.8" fill="#000"/><circle cx="135.62" cy="438.43" r="1.8" fill="#000"/><circle cx="137.33" cy="441.87" r="1.8" fill="#000"/><circle cx="139.03" cy="443.59" r="1.8" fill="#000"/><circle cx="140.74" cy="446.65" r="1.8" fill="#000"/><circle cx="142.44" cy="447.55" r="1.8" fill="#000"/><circle cx="144.15" cy="451.44" r="1.8" fill="#000"/><circle cx="145.86" cy="451.45" r="1.8" fill="#000"/><circle cx="147.56" cy="453.6" r="1.8" fill="#000"/><circle cx="149.27" cy="454.7" r="1.8" fill="#000"/><circle cx="150.97" cy="454.74" r="1.8" fill="#000"/><circle cx="152.68" cy="455.58" r="1.8" fill="#000"/><circle cx="154.39" cy="456.45" r="1.8" fill="#000"/><circle cx="156.09" cy="457.91" r="1.8" fill="#000"/><circle cx="157.8" cy="458.23" r="1.8" fill="#000"/><circle cx="159.5" cy="457.33" r="1.8" fill="#000"/><circle cx="161.21" cy="457.88" r="1.8" fill="#000"/><circle cx="162.92" cy="457.86" r="1.8" fill="#000"/><circle cx="164.62" cy="457.75" r="1.8" fill="#000"/><circle cx="166.33" cy="458.44" r="1.8" fill="#000"/><circle cx="168.03" cy="459.51" r="1.8" fill="#000"/><circle cx="169.74" cy="459.31" r="1.8" fill="#000"/><circle cx="171.45" cy="459.25" r="1.8" fill="#000"/><circle cx="173.15" cy="460.11" r="1.8" fill="#000"/><circle cx="174.86" cy="459.77" r="1.8" fill="#000"/><circle cx="176.56" cy="459.72" r="1.8" fill="#000"/><circle cx="178.27" cy="459.76" r="1.8" fill="#000"/><circle cx="179.98" cy="460.39" r="1.8" fill="#000"/><circle cx="181.68" cy="460.77" r="1.8" fill="#000"/><circle cx="183.39" cy="461.92" r="1.8" fill="#000"/><circle cx="185.09" cy="461.98" r="1.8" fill="#000"/><circle cx="186.8" cy="462.02" r="1.8" fill="#000"/><circle cx="188.51" cy="462.01" r="1.8" fill="#000"/><circle cx="190.21" cy="462.24" r="1.8" fill="#000"/><circle cx="191.92" cy="462.49" r="1.8" fill="#000"/><circle cx="193.62" cy="462.52" r="1.8" fill="#000"/><circle cx="195.33" cy="462.64" r="1.8" fill="#000"/><circle cx="197.04" cy="462.75" r="1.8" fill="#000"/><circle cx="198.74" cy="462.9" r="1.8" fill="#000"/><circle cx="200.45" cy="462.93" r="1.8" fill="#000"/><circle cx="202.15" cy="462.98" r="1.8" fill="#000"/><circle cx="203.86" cy="462.99" r="1.8" fill="#000"/><circle cx="205.57" cy="463.05" r="1.8" fill="#000"/><circle cx="207.27" cy="463.15" r="1.8" fill="#000"/><circle cx="208.98" cy="463.21" r="1.8" fill="#000"/><circle cx="210.68" cy="463.24" r="1.8" fill="#000"/><circle cx="212.39" cy="463.29" r="1.8" fill="#000"/><circle cx="214.1" cy="463.37" r="1.5" fill="#000"/><circle cx="215.8" cy="463.43" r="1.5" fill="#000"/><circle cx="217.51" cy="463.49" r="1.5" fill="#000"/><circle cx="219.21" cy="463.56" r="1.5" fill="#000"/><circle cx="220.92" cy="463.6" r="1.5" fill="#000"/><circle cx="222.63" cy="463.6" r="1.5" fill="#000"/><circle cx="224.33" cy="463.6" r="1.5" fill="#000"/><circle cx="226.04" cy="463.6" r="1.5" fill="#000"/><circle cx="227.74" cy="463.6" r="1.5" fill="#000"/><circle cx="229.45" cy="463.6" r="1.5" fill="#000"/><circle cx="231.16" cy="463.6" r="1.5" fill="#000"/><circle cx="232.86" cy="463.6" r="1.5" fill="#000"/><circle cx="234.57" cy="463.6" r="1.5" fill="#000"/><circle cx="236.27" cy="463.6" r="1.5" fill="#000"/><circle cx="237.98" cy="463.6" r="1.5" fill="#000"/><circle cx="239.69" cy="463.6" r="1.5" fill="#000"/><circle cx="241.39" cy="463.6" r="1.5" fill="#000"/><circle cx="243.1" cy="463.6" r="1.5" fill="#000"/><circle cx="244.8" cy="463.6" r="1.5" fill="#000"/><circle cx="246.51" cy="463.6" r="1.5" fill="#000"/><circle cx="248.22" cy="463.6" r="1.5" fill="#000"/><circle cx="249.92" cy="463.6" r="1.5" fill="#000"/><circle cx="251.63" cy="463.6" r="1.5" fill="#000"/><circle cx="253.33" cy="463.6" r="1.5" fill="#000"/><circle cx="255.04" cy="463.6" r="1.5" fill="#000"/><circle cx="256.75" cy="463.6" r="1.5" fill="#000"/><circle cx="258.45" cy="463.6" r="1.5" fill="#000"/><circle cx="260.16" cy="463.6" r="1.5" fill="#000"/><circle cx="261.86" cy="463.6" r="1.5" fill="#000"/><circle cx="263.57" cy="463.6" r="1.5" fill="#000"/><circle cx="265.28" cy="463.6" r="1.5" fill="#000"/><circle cx="266.98" cy="463.6" r="1.5" fill="#000"/><circle cx="268.69" cy="463.6" r="1.5" fill="#000"/><circle cx="270.39" cy="463.6" r="1.5" fill="#000"/><circle cx="272.1" cy="463.6" r="1.5" fill="#000"/><circle cx="273.81" cy="463.6" r="1.5" fill="#000"/><circle cx="275.51" cy="463.6" r="1.5" fill="#000"/><circle cx="277.22" cy="463.6" r="1.5" fill="#000"/><circle cx="278.92" cy="463.6" r="1.5" fill="#000"/><circle cx="280.63" cy="463.6" r="1.5" fill="#000"/><circle cx="282.34" cy="463.6" r="1.5" fill="#000"/><circle cx="284.04" cy="463.6" r="1.5" fill="#000"/><circle cx="285.75" cy="463.6" r="1.5" fill="#000"/><circle cx="287.45" cy="463.6" r="1.5" fill="#000"/><circle cx="289.16" cy="463.6" r="1.5" fill="#000"/><circle cx="290.87" cy="463.6" r="1.5" fill="#000"/><circle cx="292.57" cy="463.6" r="1.5" fill="#000"/><circle cx="294.28" cy="463.6" r="1.5" fill="#000"/><circle cx="295.98" cy="463.6" r="1.5" fill="#000"/><circle cx="297.69" cy="463.6" r="1.5" fill="#000"/><circle cx="299.4" cy="463.6" r="1.5" fill="#000"/><circle cx="301.1" cy="463.6" r="1.5" fill="#000"/><circle cx="302.81" cy="463.6" r="1.5" fill="#000"/><circle cx="304.51" cy="463.6" r="1.5" fill="#000"/><circle cx="306.22" cy="463.6" r="1.5" fill="#000"/><circle cx="307.93" cy="463.6" r="1.5" fill="#000"/><circle cx="309.63" cy="463.6" r="1.5" fill="#000"/><circle cx="311.34" cy="463.6" r="1.5" fill="#000"/><circle cx="313.04" cy="463.6" r="1.5" fill="#000"/><circle cx="314.75" cy="463.6" r="1.5" fill="#000"/><circle cx="316.46" cy="463.6" r="1.5" fill="#000"/><circle cx="318.16" cy="463.6" r="1.5" fill="#000"/><circle cx="319.87" cy="463.6" r="1.5" fill="#000"/><circle cx="321.57" cy="463.6" r="1.5" fill="#000"/><circle cx="323.28" cy="463.6" r="1.5" fill="#000"/><circle cx="324.99" cy="463.6" r="1.5" fill="#000"/><circle cx="326.69" cy="463.6" r="1.5" fill="#000"/><circle cx="328.4" cy="463.6" r="1.5" fill="#000"/><circle cx="330.1" cy="463.6" r="1.5" fill="#000"/><circle cx="331.81" cy="463.6" r="1.5" fill="#000"/><circle cx="333.52" cy="463.6" r="1.5" fill="#000"/><circle cx="335.22" cy="463.6" r="1.5" fill="#000"/><circle cx="336.93" cy="463.6" r="1.5" fill="#000"/><circle cx="338.63" cy="463.6" r="1.5" fill="#000"/><circle cx="340.34" cy="463.6" r="1.5" fill="#000"/><circle cx="342.05" cy="463.6" r="1.5" fill="#000"/><circle cx="343.75" cy="463.6" r="1.5" fill="#000"/><circle cx="345.46" cy="463.6" r="1.5" fill="#000"/><circle cx="347.16" cy="463.6" r="1.5" fill="#000"/><circle cx="348.87" cy="463.6" r="1.5" fill="#000"/><circle cx="350.58" cy="463.6" r="1.5" fill="#000"/><circle cx="352.28" cy="463.6" r="1.5" fill="#000"/><circle cx="353.99" cy="463.6" r="1.5" fill="#000"/><circle cx="355.69" cy="463.6" r="1.5" fill="#000"/><circle cx="357.4" cy="463.6" r="1.5" fill="#000"/><circle cx="359.11" cy="463.6" r="1.5" fill="#000"/><circle cx="360.81" cy="463.6" r="1.5" fill="#000"/><circle cx="362.52" cy="463.6" r="1.5" fill="#000"/>
<polyline points="106.53,463.6 110.8,463.6 115.06,463.6 119.33,463.6 123.59,463.6 127.86,463.6 132.12,463.6 136.39,463.6 140.65,463.6 144.92,463.6 149.18,463.6 153.45,463.6 157.71,463.6 161.98,463.6 166.24,463.6 170.51,463.6 174.77,463.6 179.04,462.2 183.3,461.92 187.57,462.2 191.83,461.08 196.1,458.83 200.36,459.25 204.63,458.27 208.89,455.61 213.16,460.24 217.42,460.8 221.69,458.27 225.95,459.25 230.22,462.9 234.48,460.24 238.75,462.06 243.01,462.06 247.28,460.8 251.54,462.9 255.81,458.27 260.07,461.08 264.34,459.25 268.6,461.08 272.87,462.06 277.13,458.83 281.4,454.21 285.66,458.27 289.93,457.85 294.19,458.27 298.46,453.09 302.72,454.63 306.99,459.39 311.25,455.75 315.52,459.95 319.78,460.8 324.05,459.95 328.31,457.29 332.58,456.73 336.84,459.95 341.11,456.17 345.37,459.39 349.64,455.19 353.9,457.29 358.17,453.09 362.43,454.21 366.7,452.52 370.96,457.85 375.23,454.21 379.49,455.75 383.76,454.63 388.02,452.52 392.29,451.68 396.55,444.11 400.82,443.27 405.08,448.32 409.35,444.81 413.61,447.48 417.88,448.32 422.14,454.49 426.41,448.46 430.67,453.51 434.94,441.73 439.2,449.86 443.47,433.46 447.73,411.45 452,393.64 456.26,388.03 460.53,367.42 464.79,355.09 469.06,378.5 473.32,387.61 477.59,396.86 481.85,423.22 486.12,419.72 490.38,416.21 494.65,439.91 498.91,444.39 503.18,442.57 507.44,433.46 511.71,427.99 515.97,442.57 520.24,463.6 524.5,463.6 528.77,463.6" fill="none" stroke="#f9b585" stroke-width="1.1"/>
<polyline points="108.66,463.6 117.19,463.6 125.73,463.6 134.25,463.6 142.79,463.6 151.31,463.6 159.85,463.6 168.38,463.6 176.9,463.6 185.44,463.6 193.96,463.6 202.5,459.39 211.03,452.66 219.55,451.54 228.09,452.66 236.61,450 245.15,444.95 253.68,443.83 262.2,440.19 270.74,432.62 279.26,410.74 287.8,421.26 296.32,414.11 304.85,411.31 313.38,404.02 321.91,402.05 330.45,399.95 338.98,404.58 347.5,414.95 356.04,426.03 364.56,427.99 373.1,430.65 381.62,431.21 390.15,430.65 398.69,434.3 407.22,436.4 415.75,439.06 424.27,426.59 432.8,429.81 441.34,431.49 449.87,416.91 458.39,408.64 466.92,403.17 475.45,410.88 483.98,419.72 492.52,416.91 501.05,423.22 509.58,423.22 518.11,452.66 526.63,463.6" fill="none" stroke="#ff5a5a" stroke-width="1.1"/>
<polyline points="174.77,463.6 179.04,463.6 183.3,463.6 187.57,463.6 191.83,463.6 196.1,463.6 200.36,463.6 204.63,463.6 208.89,462.9 213.16,463.6 217.42,463.6 221.69,463.6 225.95,463.6 230.22,463.6 234.48,463.6 238.75,462.9 243.01,462.9 247.28,462.2 251.54,461.5 255.81,453.09 260.07,455.19 264.34,455.19 268.6,410.74 272.87,383.27 277.13,325.22 281.4,292.84 285.66,323.54 289.93,373.17 294.19,294.52 298.46,299.57 302.72,320.04 306.99,385.23 311.25,417.05 315.52,443.27 319.78,450 324.05,456.17 328.31,461.5 332.58,462.2 336.84,461.5 341.11,462.2 345.37,460.8 349.64,461.5 353.9,458.27 358.17,462.2 362.43,462.9 366.7,462.2 370.96,462.2 375.23,462.9 379.49,462.9 383.76,462.9 388.02,462.9 392.29,462.9 396.55,462.9 400.82,462.9 405.08,461.5 409.35,462.9 413.61,462.9 417.88,462.9 422.14,461.5 426.41,462.9 430.67,462.9 434.94,462.9 439.2,462.9 443.47,462.9 447.73,462.9 452,461.5 456.26,462.9 460.53,462.9 464.79,462.2 469.06,462.9 473.32,462.9 477.59,462.9 481.85,462.9 486.12,462.9 490.38,461.5 494.65,462.9 498.91,462.9 503.18,462.9 507.44,462.9 511.71,462.9 515.97,462.9 520.24,463.6 524.5,463.6 528.77,463.6" fill="none" stroke="#6464ff" stroke-width="1.1"/>
<circle cx="174.77" cy="463.6" r="2.45" fill="#0000f0" stroke="#00008a" stroke-width="0.3"/><circle cx="179.04" cy="463.6" r="2.45" fill="#0000f0" stroke="#00008a" stroke-width="0.3"/><circle cx="183.3" cy="463.6" r="2.45" fill="#0000f0" stroke="#00008a" stroke-width="0.3"/><circle cx="187.57" cy="463.6" r="2.45" fill="#0000f0" stroke="#00008a" stroke-width="0.3"/><circle cx="191.83" cy="463.6" r="2.45" fill="#0000f0" stroke="#00008a" stroke-width="0.3"/><circle cx="196.1" cy="463.6" r="2.45" fill="#0000f0" stroke="#00008a" stroke-width="0.3"/><circle cx="200.36" cy="463.6" r="2.45" fill="#0000f0" stroke="#00008a" stroke-width="0.3"/><circle cx="204.63" cy="463.6" r="2.45" fill="#0000f0" stroke="#00008a" stroke-width="0.3"/><circle cx="208.89" cy="462.9" r="2.45" fill="#0000f0" stroke="#00008a" stroke-width="0.3"/><circle cx="213.16" cy="463.6" r="2.45" fill="#0000f0" stroke="#00008a" stroke-width="0.3"/><circle cx="217.42" cy="463.6" r="2.45" fill="#0000f0" stroke="#00008a" stroke-width="0.3"/><circle cx="221.69" cy="463.6" r="2.45" fill="#0000f0" stroke="#00008a" stroke-width="0.3"/><circle cx="225.95" cy="463.6" r="2.45" fill="#0000f0" stroke="#00008a" stroke-width="0.3"/><circle cx="230.22" cy="463.6" r="2.45" fill="#0000f0" stroke="#00008a" stroke-width="0.3"/><circle cx="234.48" cy="463.6" r="2.45" fill="#0000f0" stroke="#00008a" stroke-width="0.3"/><circle cx="238.75" cy="462.9" r="2.45" fill="#0000f0" stroke="#00008a" stroke-width="0.3"/><circle cx="243.01" cy="462.9" r="2.45" fill="#0000f0" stroke="#00008a" stroke-width="0.3"/><circle cx="247.28" cy="462.2" r="2.45" fill="#0000f0" stroke="#00008a" stroke-width="0.3"/><circle cx="251.54" cy="461.5" r="2.45" fill="#0000f0" stroke="#00008a" stroke-width="0.3"/><circle cx="255.81" cy="453.09" r="2.45" fill="#0000f0" stroke="#00008a" stroke-width="0.3"/><circle cx="260.07" cy="455.19" r="2.45" fill="#0000f0" stroke="#00008a" stroke-width="0.3"/><circle cx="264.34" cy="455.19" r="2.45" fill="#0000f0" stroke="#00008a" stroke-width="0.3"/><circle cx="268.6" cy="410.74" r="2.45" fill="#0000f0" stroke="#00008a" stroke-width="0.3"/><circle cx="272.87" cy="383.27" r="2.45" fill="#0000f0" stroke="#00008a" stroke-width="0.3"/><circle cx="277.13" cy="325.22" r="2.45" fill="#0000f0" stroke="#00008a" stroke-width="0.3"/><circle cx="281.4" cy="292.84" r="2.45" fill="#0000f0" stroke="#00008a" stroke-width="0.3"/><circle cx="285.66" cy="323.54" r="2.45" fill="#0000f0" stroke="#00008a" stroke-width="0.3"/><circle cx="289.93" cy="373.17" r="2.45" fill="#0000f0" stroke="#00008a" stroke-width="0.3"/><circle cx="294.19" cy="294.52" r="2.45" fill="#0000f0" stroke="#00008a" stroke-width="0.3"/><circle cx="298.46" cy="299.57" r="2.45" fill="#0000f0" stroke="#00008a" stroke-width="0.3"/><circle cx="302.72" cy="320.04" r="2.45" fill="#0000f0" stroke="#00008a" stroke-width="0.3"/><circle cx="306.99" cy="385.23" r="2.45" fill="#0000f0" stroke="#00008a" stroke-width="0.3"/><circle cx="311.25" cy="417.05" r="2.45" fill="#0000f0" stroke="#00008a" stroke-width="0.3"/><circle cx="315.52" cy="443.27" r="2.45" fill="#0000f0" stroke="#00008a" stroke-width="0.3"/><circle cx="319.78" cy="450" r="2.45" fill="#0000f0" stroke="#00008a" stroke-width="0.3"/><circle cx="324.05" cy="456.17" r="2.45" fill="#0000f0" stroke="#00008a" stroke-width="0.3"/><circle cx="328.31" cy="461.5" r="2.45" fill="#0000f0" stroke="#00008a" stroke-width="0.3"/><circle cx="332.58" cy="462.2" r="2.45" fill="#0000f0" stroke="#00008a" stroke-width="0.3"/><circle cx="336.84" cy="461.5" r="2.45" fill="#0000f0" stroke="#00008a" stroke-width="0.3"/><circle cx="341.11" cy="462.2" r="2.45" fill="#0000f0" stroke="#00008a" stroke-width="0.3"/><circle cx="345.37" cy="460.8" r="2.45" fill="#0000f0" stroke="#00008a" stroke-width="0.3"/><circle cx="349.64" cy="461.5" r="2.45" fill="#0000f0" stroke="#00008a" stroke-width="0.3"/><circle cx="353.9" cy="458.27" r="2.45" fill="#0000f0" stroke="#00008a" stroke-width="0.3"/><circle cx="358.17" cy="462.2" r="2.45" fill="#0000f0" stroke="#00008a" stroke-width="0.3"/><circle cx="362.43" cy="462.9" r="2.45" fill="#0000f0" stroke="#00008a" stroke-width="0.3"/><circle cx="366.7" cy="462.2" r="2.45" fill="#0000f0" stroke="#00008a" stroke-width="0.3"/><circle cx="370.96" cy="462.2" r="2.45" fill="#0000f0" stroke="#00008a" stroke-width="0.3"/><circle cx="375.23" cy="462.9" r="2.45" fill="#0000f0" stroke="#00008a" stroke-width="0.3"/><circle cx="379.49" cy="462.9" r="2.45" fill="#0000f0" stroke="#00008a" stroke-width="0.3"/><circle cx="383.76" cy="462.9" r="2.45" fill="#0000f0" stroke="#00008a" stroke-width="0.3"/><circle cx="388.02" cy="462.9" r="2.45" fill="#0000f0" stroke="#00008a" stroke-width="0.3"/><circle cx="392.29" cy="462.9" r="2.45" fill="#0000f0" stroke="#00008a" stroke-width="0.3"/><circle cx="396.55" cy="462.9" r="2.45" fill="#0000f0" stroke="#00008a" stroke-width="0.3"/><circle cx="400.82" cy="462.9" r="2.45" fill="#0000f0" stroke="#00008a" stroke-width="0.3"/><circle cx="405.08" cy="461.5" r="2.45" fill="#0000f0" stroke="#00008a" stroke-width="0.3"/><circle cx="409.35" cy="462.9" r="2.45" fill="#0000f0" stroke="#00008a" stroke-width="0.3"/><circle cx="413.61" cy="462.9" r="2.45" fill="#0000f0" stroke="#00008a" stroke-width="0.3"/><circle cx="417.88" cy="462.9" r="2.45" fill="#0000f0" stroke="#00008a" stroke-width="0.3"/><circle cx="422.14" cy="461.5" r="2.45" fill="#0000f0" stroke="#00008a" stroke-width="0.3"/><circle cx="426.41" cy="462.9" r="2.45" fill="#0000f0" stroke="#00008a" stroke-width="0.3"/><circle cx="430.67" cy="462.9" r="2.45" fill="#0000f0" stroke="#00008a" stroke-width="0.3"/><circle cx="434.94" cy="462.9" r="2.45" fill="#0000f0" stroke="#00008a" stroke-width="0.3"/><circle cx="439.2" cy="462.9" r="2.45" fill="#0000f0" stroke="#00008a" stroke-width="0.3"/><circle cx="443.47" cy="462.9" r="2.45" fill="#0000f0" stroke="#00008a" stroke-width="0.3"/><circle cx="447.73" cy="462.9" r="2.45" fill="#0000f0" stroke="#00008a" stroke-width="0.3"/><circle cx="452" cy="461.5" r="2.45" fill="#0000f0" stroke="#00008a" stroke-width="0.3"/><circle cx="456.26" cy="462.9" r="2.45" fill="#0000f0" stroke="#00008a" stroke-width="0.3"/><circle cx="460.53" cy="462.9" r="2.45" fill="#0000f0" stroke="#00008a" stroke-width="0.3"/><circle cx="464.79" cy="462.2" r="2.45" fill="#0000f0" stroke="#00008a" stroke-width="0.3"/><circle cx="469.06" cy="462.9" r="2.45" fill="#0000f0" stroke="#00008a" stroke-width="0.3"/><circle cx="473.32" cy="462.9" r="2.45" fill="#0000f0" stroke="#00008a" stroke-width="0.3"/><circle cx="477.59" cy="462.9" r="2.45" fill="#0000f0" stroke="#00008a" stroke-width="0.3"/><circle cx="481.85" cy="462.9" r="2.45" fill="#0000f0" stroke="#00008a" stroke-width="0.3"/><circle cx="486.12" cy="462.9" r="2.45" fill="#0000f0" stroke="#00008a" stroke-width="0.3"/><circle cx="490.38" cy="461.5" r="2.45" fill="#0000f0" stroke="#00008a" stroke-width="0.3"/><circle cx="494.65" cy="462.9" r="2.45" fill="#0000f0" stroke="#00008a" stroke-width="0.3"/><circle cx="498.91" cy="462.9" r="2.45" fill="#0000f0" stroke="#00008a" stroke-width="0.3"/><circle cx="503.18" cy="462.9" r="2.45" fill="#0000f0" stroke="#00008a" stroke-width="0.3"/><circle cx="507.44" cy="462.9" r="2.45" fill="#0000f0" stroke="#00008a" stroke-width="0.3"/><circle cx="511.71" cy="462.9" r="2.45" fill="#0000f0" stroke="#00008a" stroke-width="0.3"/><circle cx="515.97" cy="462.9" r="2.45" fill="#0000f0" stroke="#00008a" stroke-width="0.3"/><circle cx="520.24" cy="463.6" r="2.45" fill="#0000f0" stroke="#00008a" stroke-width="0.3"/><circle cx="524.5" cy="463.6" r="2.45" fill="#0000f0" stroke="#00008a" stroke-width="0.3"/><circle cx="528.77" cy="463.6" r="2.45" fill="#0000f0" stroke="#00008a" stroke-width="0.3"/>
<rect x="106.51" y="461.45" width="4.3" height="4.3" transform="rotate(45 108.66 463.6)" fill="#ff0000" stroke="#6a0000" stroke-width="0.9"/><rect x="115.04" y="461.45" width="4.3" height="4.3" transform="rotate(45 117.19 463.6)" fill="#ff0000" stroke="#6a0000" stroke-width="0.9"/><rect x="123.58" y="461.45" width="4.3" height="4.3" transform="rotate(45 125.73 463.6)" fill="#ff0000" stroke="#6a0000" stroke-width="0.9"/><rect x="132.1" y="461.45" width="4.3" height="4.3" transform="rotate(45 134.25 463.6)" fill="#ff0000" stroke="#6a0000" stroke-width="0.9"/><rect x="140.64" y="461.45" width="4.3" height="4.3" transform="rotate(45 142.79 463.6)" fill="#ff0000" stroke="#6a0000" stroke-width="0.9"/><rect x="149.16" y="461.45" width="4.3" height="4.3" transform="rotate(45 151.31 463.6)" fill="#ff0000" stroke="#6a0000" stroke-width="0.9"/><rect x="157.7" y="461.45" width="4.3" height="4.3" transform="rotate(45 159.85 463.6)" fill="#ff0000" stroke="#6a0000" stroke-width="0.9"/><rect x="166.22" y="461.45" width="4.3" height="4.3" transform="rotate(45 168.38 463.6)" fill="#ff0000" stroke="#6a0000" stroke-width="0.9"/><rect x="174.75" y="461.45" width="4.3" height="4.3" transform="rotate(45 176.9 463.6)" fill="#ff0000" stroke="#6a0000" stroke-width="0.9"/><rect x="183.28" y="461.45" width="4.3" height="4.3" transform="rotate(45 185.44 463.6)" fill="#ff0000" stroke="#6a0000" stroke-width="0.9"/><rect x="191.81" y="461.45" width="4.3" height="4.3" transform="rotate(45 193.96 463.6)" fill="#ff0000" stroke="#6a0000" stroke-width="0.9"/><rect x="200.35" y="457.24" width="4.3" height="4.3" transform="rotate(45 202.5 459.39)" fill="#ff0000" stroke="#6a0000" stroke-width="0.9"/><rect x="208.88" y="450.51" width="4.3" height="4.3" transform="rotate(45 211.03 452.66)" fill="#ff0000" stroke="#6a0000" stroke-width="0.9"/><rect x="217.4" y="449.39" width="4.3" height="4.3" transform="rotate(45 219.55 451.54)" fill="#ff0000" stroke="#6a0000" stroke-width="0.9"/><rect x="225.94" y="450.51" width="4.3" height="4.3" transform="rotate(45 228.09 452.66)" fill="#ff0000" stroke="#6a0000" stroke-width="0.9"/><rect x="234.46" y="447.85" width="4.3" height="4.3" transform="rotate(45 236.61 450)" fill="#ff0000" stroke="#6a0000" stroke-width="0.9"/><rect x="243" y="442.8" width="4.3" height="4.3" transform="rotate(45 245.15 444.95)" fill="#ff0000" stroke="#6a0000" stroke-width="0.9"/><rect x="251.53" y="441.68" width="4.3" height="4.3" transform="rotate(45 253.68 443.83)" fill="#ff0000" stroke="#6a0000" stroke-width="0.9"/><rect x="260.06" y="438.04" width="4.3" height="4.3" transform="rotate(45 262.2 440.19)" fill="#ff0000" stroke="#6a0000" stroke-width="0.9"/><rect x="268.59" y="430.47" width="4.3" height="4.3" transform="rotate(45 270.74 432.62)" fill="#ff0000" stroke="#6a0000" stroke-width="0.9"/><rect x="277.12" y="408.59" width="4.3" height="4.3" transform="rotate(45 279.26 410.74)" fill="#ff0000" stroke="#6a0000" stroke-width="0.9"/><rect x="285.65" y="419.11" width="4.3" height="4.3" transform="rotate(45 287.8 421.26)" fill="#ff0000" stroke="#6a0000" stroke-width="0.9"/><rect x="294.18" y="411.96" width="4.3" height="4.3" transform="rotate(45 296.32 414.11)" fill="#ff0000" stroke="#6a0000" stroke-width="0.9"/><rect x="302.7" y="409.16" width="4.3" height="4.3" transform="rotate(45 304.85 411.31)" fill="#ff0000" stroke="#6a0000" stroke-width="0.9"/><rect x="311.24" y="401.87" width="4.3" height="4.3" transform="rotate(45 313.38 404.02)" fill="#ff0000" stroke="#6a0000" stroke-width="0.9"/><rect x="319.76" y="399.9" width="4.3" height="4.3" transform="rotate(45 321.91 402.05)" fill="#ff0000" stroke="#6a0000" stroke-width="0.9"/><rect x="328.3" y="397.8" width="4.3" height="4.3" transform="rotate(45 330.45 399.95)" fill="#ff0000" stroke="#6a0000" stroke-width="0.9"/><rect x="336.83" y="402.43" width="4.3" height="4.3" transform="rotate(45 338.98 404.58)" fill="#ff0000" stroke="#6a0000" stroke-width="0.9"/><rect x="345.36" y="412.8" width="4.3" height="4.3" transform="rotate(45 347.5 414.95)" fill="#ff0000" stroke="#6a0000" stroke-width="0.9"/><rect x="353.89" y="423.88" width="4.3" height="4.3" transform="rotate(45 356.04 426.03)" fill="#ff0000" stroke="#6a0000" stroke-width="0.9"/><rect x="362.41" y="425.84" width="4.3" height="4.3" transform="rotate(45 364.56 427.99)" fill="#ff0000" stroke="#6a0000" stroke-width="0.9"/><rect x="370.95" y="428.5" width="4.3" height="4.3" transform="rotate(45 373.1 430.65)" fill="#ff0000" stroke="#6a0000" stroke-width="0.9"/><rect x="379.48" y="429.06" width="4.3" height="4.3" transform="rotate(45 381.62 431.21)" fill="#ff0000" stroke="#6a0000" stroke-width="0.9"/><rect x="388" y="428.5" width="4.3" height="4.3" transform="rotate(45 390.15 430.65)" fill="#ff0000" stroke="#6a0000" stroke-width="0.9"/><rect x="396.54" y="432.15" width="4.3" height="4.3" transform="rotate(45 398.69 434.3)" fill="#ff0000" stroke="#6a0000" stroke-width="0.9"/><rect x="405.07" y="434.25" width="4.3" height="4.3" transform="rotate(45 407.22 436.4)" fill="#ff0000" stroke="#6a0000" stroke-width="0.9"/><rect x="413.6" y="436.92" width="4.3" height="4.3" transform="rotate(45 415.75 439.06)" fill="#ff0000" stroke="#6a0000" stroke-width="0.9"/><rect x="422.12" y="424.44" width="4.3" height="4.3" transform="rotate(45 424.27 426.59)" fill="#ff0000" stroke="#6a0000" stroke-width="0.9"/><rect x="430.65" y="427.66" width="4.3" height="4.3" transform="rotate(45 432.8 429.81)" fill="#ff0000" stroke="#6a0000" stroke-width="0.9"/><rect x="439.19" y="429.34" width="4.3" height="4.3" transform="rotate(45 441.34 431.49)" fill="#ff0000" stroke="#6a0000" stroke-width="0.9"/><rect x="447.72" y="414.76" width="4.3" height="4.3" transform="rotate(45 449.87 416.91)" fill="#ff0000" stroke="#6a0000" stroke-width="0.9"/><rect x="456.25" y="406.49" width="4.3" height="4.3" transform="rotate(45 458.39 408.64)" fill="#ff0000" stroke="#6a0000" stroke-width="0.9"/><rect x="464.77" y="401.02" width="4.3" height="4.3" transform="rotate(45 466.92 403.17)" fill="#ff0000" stroke="#6a0000" stroke-width="0.9"/><rect x="473.3" y="408.73" width="4.3" height="4.3" transform="rotate(45 475.45 410.88)" fill="#ff0000" stroke="#6a0000" stroke-width="0.9"/><rect x="481.83" y="417.57" width="4.3" height="4.3" transform="rotate(45 483.98 419.72)" fill="#ff0000" stroke="#6a0000" stroke-width="0.9"/><rect x="490.37" y="414.76" width="4.3" height="4.3" transform="rotate(45 492.52 416.91)" fill="#ff0000" stroke="#6a0000" stroke-width="0.9"/><rect x="498.9" y="421.07" width="4.3" height="4.3" transform="rotate(45 501.05 423.22)" fill="#ff0000" stroke="#6a0000" stroke-width="0.9"/><rect x="507.43" y="421.07" width="4.3" height="4.3" transform="rotate(45 509.58 423.22)" fill="#ff0000" stroke="#6a0000" stroke-width="0.9"/><rect x="515.96" y="450.51" width="4.3" height="4.3" transform="rotate(45 518.11 452.66)" fill="#ff0000" stroke="#6a0000" stroke-width="0.9"/><rect x="524.48" y="461.45" width="4.3" height="4.3" transform="rotate(45 526.63 463.6)" fill="#ff0000" stroke="#6a0000" stroke-width="0.9"/>
<circle cx="106.53" cy="463.6" r="2.3" fill="#f7841e" stroke="#6b3a10" stroke-width="0.65"/><circle cx="110.8" cy="463.6" r="2.3" fill="#f7841e" stroke="#6b3a10" stroke-width="0.65"/><circle cx="115.06" cy="463.6" r="2.3" fill="#f7841e" stroke="#6b3a10" stroke-width="0.65"/><circle cx="119.33" cy="463.6" r="2.3" fill="#f7841e" stroke="#6b3a10" stroke-width="0.65"/><circle cx="123.59" cy="463.6" r="2.3" fill="#f7841e" stroke="#6b3a10" stroke-width="0.65"/><circle cx="127.86" cy="463.6" r="2.3" fill="#f7841e" stroke="#6b3a10" stroke-width="0.65"/><circle cx="132.12" cy="463.6" r="2.3" fill="#f7841e" stroke="#6b3a10" stroke-width="0.65"/><circle cx="136.39" cy="463.6" r="2.3" fill="#f7841e" stroke="#6b3a10" stroke-width="0.65"/><circle cx="140.65" cy="463.6" r="2.3" fill="#f7841e" stroke="#6b3a10" stroke-width="0.65"/><circle cx="144.92" cy="463.6" r="2.3" fill="#f7841e" stroke="#6b3a10" stroke-width="0.65"/><circle cx="149.18" cy="463.6" r="2.3" fill="#f7841e" stroke="#6b3a10" stroke-width="0.65"/><circle cx="153.45" cy="463.6" r="2.3" fill="#f7841e" stroke="#6b3a10" stroke-width="0.65"/><circle cx="157.71" cy="463.6" r="2.3" fill="#f7841e" stroke="#6b3a10" stroke-width="0.65"/><circle cx="161.98" cy="463.6" r="2.3" fill="#f7841e" stroke="#6b3a10" stroke-width="0.65"/><circle cx="166.24" cy="463.6" r="2.3" fill="#f7841e" stroke="#6b3a10" stroke-width="0.65"/><circle cx="170.51" cy="463.6" r="2.3" fill="#f7841e" stroke="#6b3a10" stroke-width="0.65"/><circle cx="174.77" cy="463.6" r="2.3" fill="#f7841e" stroke="#6b3a10" stroke-width="0.65"/><circle cx="179.04" cy="462.2" r="2.3" fill="#f7841e" stroke="#6b3a10" stroke-width="0.65"/><circle cx="183.3" cy="461.92" r="2.3" fill="#f7841e" stroke="#6b3a10" stroke-width="0.65"/><circle cx="187.57" cy="462.2" r="2.3" fill="#f7841e" stroke="#6b3a10" stroke-width="0.65"/><circle cx="191.83" cy="461.08" r="2.3" fill="#f7841e" stroke="#6b3a10" stroke-width="0.65"/><circle cx="196.1" cy="458.83" r="2.3" fill="#f7841e" stroke="#6b3a10" stroke-width="0.65"/><circle cx="200.36" cy="459.25" r="2.3" fill="#f7841e" stroke="#6b3a10" stroke-width="0.65"/><circle cx="204.63" cy="458.27" r="2.3" fill="#f7841e" stroke="#6b3a10" stroke-width="0.65"/><circle cx="208.89" cy="455.61" r="2.3" fill="#f7841e" stroke="#6b3a10" stroke-width="0.65"/><circle cx="213.16" cy="460.24" r="2.3" fill="#f7841e" stroke="#6b3a10" stroke-width="0.65"/><circle cx="217.42" cy="460.8" r="2.3" fill="#f7841e" stroke="#6b3a10" stroke-width="0.65"/><circle cx="221.69" cy="458.27" r="2.3" fill="#f7841e" stroke="#6b3a10" stroke-width="0.65"/><circle cx="225.95" cy="459.25" r="2.3" fill="#f7841e" stroke="#6b3a10" stroke-width="0.65"/><circle cx="230.22" cy="462.9" r="2.3" fill="#f7841e" stroke="#6b3a10" stroke-width="0.65"/><circle cx="234.48" cy="460.24" r="2.3" fill="#f7841e" stroke="#6b3a10" stroke-width="0.65"/><circle cx="238.75" cy="462.06" r="2.3" fill="#f7841e" stroke="#6b3a10" stroke-width="0.65"/><circle cx="243.01" cy="462.06" r="2.3" fill="#f7841e" stroke="#6b3a10" stroke-width="0.65"/><circle cx="247.28" cy="460.8" r="2.3" fill="#f7841e" stroke="#6b3a10" stroke-width="0.65"/><circle cx="251.54" cy="462.9" r="2.3" fill="#f7841e" stroke="#6b3a10" stroke-width="0.65"/><circle cx="255.81" cy="458.27" r="2.3" fill="#f7841e" stroke="#6b3a10" stroke-width="0.65"/><circle cx="260.07" cy="461.08" r="2.3" fill="#f7841e" stroke="#6b3a10" stroke-width="0.65"/><circle cx="264.34" cy="459.25" r="2.3" fill="#f7841e" stroke="#6b3a10" stroke-width="0.65"/><circle cx="268.6" cy="461.08" r="2.3" fill="#f7841e" stroke="#6b3a10" stroke-width="0.65"/><circle cx="272.87" cy="462.06" r="2.3" fill="#f7841e" stroke="#6b3a10" stroke-width="0.65"/><circle cx="277.13" cy="458.83" r="2.3" fill="#f7841e" stroke="#6b3a10" stroke-width="0.65"/><circle cx="281.4" cy="454.21" r="2.3" fill="#f7841e" stroke="#6b3a10" stroke-width="0.65"/><circle cx="285.66" cy="458.27" r="2.3" fill="#f7841e" stroke="#6b3a10" stroke-width="0.65"/><circle cx="289.93" cy="457.85" r="2.3" fill="#f7841e" stroke="#6b3a10" stroke-width="0.65"/><circle cx="294.19" cy="458.27" r="2.3" fill="#f7841e" stroke="#6b3a10" stroke-width="0.65"/><circle cx="298.46" cy="453.09" r="2.3" fill="#f7841e" stroke="#6b3a10" stroke-width="0.65"/><circle cx="302.72" cy="454.63" r="2.3" fill="#f7841e" stroke="#6b3a10" stroke-width="0.65"/><circle cx="306.99" cy="459.39" r="2.3" fill="#f7841e" stroke="#6b3a10" stroke-width="0.65"/><circle cx="311.25" cy="455.75" r="2.3" fill="#f7841e" stroke="#6b3a10" stroke-width="0.65"/><circle cx="315.52" cy="459.95" r="2.3" fill="#f7841e" stroke="#6b3a10" stroke-width="0.65"/><circle cx="319.78" cy="460.8" r="2.3" fill="#f7841e" stroke="#6b3a10" stroke-width="0.65"/><circle cx="324.05" cy="459.95" r="2.3" fill="#f7841e" stroke="#6b3a10" stroke-width="0.65"/><circle cx="328.31" cy="457.29" r="2.3" fill="#f7841e" stroke="#6b3a10" stroke-width="0.65"/><circle cx="332.58" cy="456.73" r="2.3" fill="#f7841e" stroke="#6b3a10" stroke-width="0.65"/><circle cx="336.84" cy="459.95" r="2.3" fill="#f7841e" stroke="#6b3a10" stroke-width="0.65"/><circle cx="341.11" cy="456.17" r="2.3" fill="#f7841e" stroke="#6b3a10" stroke-width="0.65"/><circle cx="345.37" cy="459.39" r="2.3" fill="#f7841e" stroke="#6b3a10" stroke-width="0.65"/><circle cx="349.64" cy="455.19" r="2.3" fill="#f7841e" stroke="#6b3a10" stroke-width="0.65"/><circle cx="353.9" cy="457.29" r="2.3" fill="#f7841e" stroke="#6b3a10" stroke-width="0.65"/><circle cx="358.17" cy="453.09" r="2.3" fill="#f7841e" stroke="#6b3a10" stroke-width="0.65"/><circle cx="362.43" cy="454.21" r="2.3" fill="#f7841e" stroke="#6b3a10" stroke-width="0.65"/><circle cx="366.7" cy="452.52" r="2.3" fill="#f7841e" stroke="#6b3a10" stroke-width="0.65"/><circle cx="370.96" cy="457.85" r="2.3" fill="#f7841e" stroke="#6b3a10" stroke-width="0.65"/><circle cx="375.23" cy="454.21" r="2.3" fill="#f7841e" stroke="#6b3a10" stroke-width="0.65"/><circle cx="379.49" cy="455.75" r="2.3" fill="#f7841e" stroke="#6b3a10" stroke-width="0.65"/><circle cx="383.76" cy="454.63" r="2.3" fill="#f7841e" stroke="#6b3a10" stroke-width="0.65"/><circle cx="388.02" cy="452.52" r="2.3" fill="#f7841e" stroke="#6b3a10" stroke-width="0.65"/><circle cx="392.29" cy="451.68" r="2.3" fill="#f7841e" stroke="#6b3a10" stroke-width="0.65"/><circle cx="396.55" cy="444.11" r="2.3" fill="#f7841e" stroke="#6b3a10" stroke-width="0.65"/><circle cx="400.82" cy="443.27" r="2.3" fill="#f7841e" stroke="#6b3a10" stroke-width="0.65"/><circle cx="405.08" cy="448.32" r="2.3" fill="#f7841e" stroke="#6b3a10" stroke-width="0.65"/><circle cx="409.35" cy="444.81" r="2.3" fill="#f7841e" stroke="#6b3a10" stroke-width="0.65"/><circle cx="413.61" cy="447.48" r="2.3" fill="#f7841e" stroke="#6b3a10" stroke-width="0.65"/><circle cx="417.88" cy="448.32" r="2.3" fill="#f7841e" stroke="#6b3a10" stroke-width="0.65"/><circle cx="422.14" cy="454.49" r="2.3" fill="#f7841e" stroke="#6b3a10" stroke-width="0.65"/><circle cx="426.41" cy="448.46" r="2.3" fill="#f7841e" stroke="#6b3a10" stroke-width="0.65"/><circle cx="430.67" cy="453.51" r="2.3" fill="#f7841e" stroke="#6b3a10" stroke-width="0.65"/><circle cx="434.94" cy="441.73" r="2.3" fill="#f7841e" stroke="#6b3a10" stroke-width="0.65"/><circle cx="439.2" cy="449.86" r="2.3" fill="#f7841e" stroke="#6b3a10" stroke-width="0.65"/><circle cx="443.47" cy="433.46" r="2.3" fill="#f7841e" stroke="#6b3a10" stroke-width="0.65"/><circle cx="447.73" cy="411.45" r="2.3" fill="#f7841e" stroke="#6b3a10" stroke-width="0.65"/><circle cx="452" cy="393.64" r="2.3" fill="#f7841e" stroke="#6b3a10" stroke-width="0.65"/><circle cx="456.26" cy="388.03" r="2.3" fill="#f7841e" stroke="#6b3a10" stroke-width="0.65"/><circle cx="460.53" cy="367.42" r="2.3" fill="#f7841e" stroke="#6b3a10" stroke-width="0.65"/><circle cx="464.79" cy="355.09" r="2.3" fill="#f7841e" stroke="#6b3a10" stroke-width="0.65"/><circle cx="469.06" cy="378.5" r="2.3" fill="#f7841e" stroke="#6b3a10" stroke-width="0.65"/><circle cx="473.32" cy="387.61" r="2.3" fill="#f7841e" stroke="#6b3a10" stroke-width="0.65"/><circle cx="477.59" cy="396.86" r="2.3" fill="#f7841e" stroke="#6b3a10" stroke-width="0.65"/><circle cx="481.85" cy="423.22" r="2.3" fill="#f7841e" stroke="#6b3a10" stroke-width="0.65"/><circle cx="486.12" cy="419.72" r="2.3" fill="#f7841e" stroke="#6b3a10" stroke-width="0.65"/><circle cx="490.38" cy="416.21" r="2.3" fill="#f7841e" stroke="#6b3a10" stroke-width="0.65"/><circle cx="494.65" cy="439.91" r="2.3" fill="#f7841e" stroke="#6b3a10" stroke-width="0.65"/><circle cx="498.91" cy="444.39" r="2.3" fill="#f7841e" stroke="#6b3a10" stroke-width="0.65"/><circle cx="503.18" cy="442.57" r="2.3" fill="#f7841e" stroke="#6b3a10" stroke-width="0.65"/><circle cx="507.44" cy="433.46" r="2.3" fill="#f7841e" stroke="#6b3a10" stroke-width="0.65"/><circle cx="511.71" cy="427.99" r="2.3" fill="#f7841e" stroke="#6b3a10" stroke-width="0.65"/><circle cx="515.97" cy="442.57" r="2.3" fill="#f7841e" stroke="#6b3a10" stroke-width="0.65"/><circle cx="520.24" cy="463.6" r="2.3" fill="#f7841e" stroke="#6b3a10" stroke-width="0.65"/><circle cx="524.5" cy="463.6" r="2.3" fill="#f7841e" stroke="#6b3a10" stroke-width="0.65"/><circle cx="528.77" cy="463.6" r="2.3" fill="#f7841e" stroke="#6b3a10" stroke-width="0.65"/>
<path d="M61.9 18.9V237.29999999999998H531.6" fill="none" stroke="#000" stroke-width="1.3"/>
<path d="M70.28 236.7v3.2 M87.34 236.7v3.2 M104.4 236.7v5.2 M121.46 236.7v3.2 M138.52 236.7v3.2 M155.58 236.7v3.2 M172.64 236.7v3.2 M189.7 236.7v5.2 M206.76 236.7v3.2 M223.82 236.7v3.2 M240.88 236.7v3.2 M257.94 236.7v3.2 M275 236.7v5.2 M292.06 236.7v3.2 M309.12 236.7v3.2 M326.18 236.7v3.2 M343.24 236.7v3.2 M360.3 236.7v5.2 M377.36 236.7v3.2 M394.42 236.7v3.2 M411.48 236.7v3.2 M428.54 236.7v3.2 M445.6 236.7v5.2 M462.66 236.7v3.2 M479.72 236.7v3.2 M496.78 236.7v3.2 M513.84 236.7v3.2 M530.9 236.7v5.2 M61.9 229.9h-5.6 M61.9 215.88h-3 M61.9 201.86h-3 M61.9 187.84h-3 M61.9 173.82h-3 M61.9 159.8h-5.6 M61.9 145.78h-3 M61.9 131.76h-3 M61.9 117.74h-3 M61.9 103.72h-3 M61.9 89.7h-5.6 M61.9 75.68h-3 M61.9 61.66h-3 M61.9 47.64h-3 M61.9 33.62h-3 M61.9 19.6h-5.6" stroke="#000" stroke-width="1.2"/>
<text x="52.8" y="234.1" text-anchor="end" class="tk">0</text>
<text x="52.8" y="164" text-anchor="end" class="tk">5</text>
<text x="52.8" y="93.9" text-anchor="end" class="tk">10</text>
<text x="52.8" y="23.8" text-anchor="end" class="tk">15</text>
<path d="M61.9 252.8V470.90000000000003H531.6" fill="none" stroke="#000" stroke-width="1.3"/>
<path d="M70.28 470.3v3.2 M87.34 470.3v3.2 M104.4 470.3v5.2 M121.46 470.3v3.2 M138.52 470.3v3.2 M155.58 470.3v3.2 M172.64 470.3v3.2 M189.7 470.3v5.2 M206.76 470.3v3.2 M223.82 470.3v3.2 M240.88 470.3v3.2 M257.94 470.3v3.2 M275 470.3v5.2 M292.06 470.3v3.2 M309.12 470.3v3.2 M326.18 470.3v3.2 M343.24 470.3v3.2 M360.3 470.3v5.2 M377.36 470.3v3.2 M394.42 470.3v3.2 M411.48 470.3v3.2 M428.54 470.3v3.2 M445.6 470.3v5.2 M462.66 470.3v3.2 M479.72 470.3v3.2 M496.78 470.3v3.2 M513.84 470.3v3.2 M530.9 470.3v5.2 M61.9 463.6h-5.6 M61.9 449.58h-3 M61.9 435.56h-3 M61.9 421.54h-3 M61.9 407.52h-3 M61.9 393.5h-5.6 M61.9 379.48h-3 M61.9 365.46h-3 M61.9 351.44h-3 M61.9 337.42h-3 M61.9 323.4h-5.6 M61.9 309.38h-3 M61.9 295.36h-3 M61.9 281.34h-3 M61.9 267.32h-3 M61.9 253.3h-5.6" stroke="#000" stroke-width="1.2"/>
<text x="52.8" y="467.8" text-anchor="end" class="tk">0</text>
<text x="52.8" y="397.7" text-anchor="end" class="tk">5</text>
<text x="52.8" y="327.6" text-anchor="end" class="tk">10</text>
<text x="52.8" y="257.5" text-anchor="end" class="tk">15</text>
<text x="104.4" y="491.7" text-anchor="middle" class="tk">2.0</text>
<text x="189.7" y="491.7" text-anchor="middle" class="tk">2.5</text>
<text x="275" y="491.7" text-anchor="middle" class="tk">3.0</text>
<text x="360.3" y="491.7" text-anchor="middle" class="tk">3.5</text>
<text x="445.6" y="491.7" text-anchor="middle" class="tk">4.0</text>
<text x="530.9" y="491.7" text-anchor="middle" class="tk">4.5</text>
<path d="M260.7 27.5V468 M368.8 27.5V468" stroke="#000" stroke-width="1.3" stroke-dasharray="5 4.34"/>
<circle cx="260.7" cy="470.8" r="3" fill="#000"/><circle cx="368.8" cy="470.8" r="3" fill="#000"/>
<text x="192.5" y="269" fill="#1010ff" font-size="16">X<tspan font-style="italic" font-size="12" dy="3.2">n</tspan><tspan dy="-3.2">Zn</tspan></text>
<path d="M229 263.3H245.5 M252.4 271.5V284.5" stroke="#1010ff" stroke-width="1.2"/>
<path d="M226.8 272.5L246 287.5" stroke="#1010ff" stroke-width="1.3" stroke-dasharray="3.5 2.6"/>
<text x="246.8" y="269.2" fill="#1010ff" font-size="16">X</text>
<text x="246" y="297.4" fill="#1010ff" font-size="16">O</text>
<text x="317.5" y="271" fill="#ff1a1a" font-size="15.6">X<tspan font-style="italic" font-size="12" dy="3.2">n</tspan><tspan dy="-3.2">Zn</tspan></text>
<path d="M354 264.6H375.5 M382.2 272.5V289.5 M357 297.6H374.8" stroke="#ff1a1a" stroke-width="1.2"/>
<path d="M348.2 272.5V290" stroke="#ff1a1a" stroke-width="1.2" stroke-dasharray="3 2.3"/>
<text x="376.8" y="271" fill="#ff1a1a" font-size="16">X</text>
<text x="376.4" y="303.2" fill="#ff1a1a" font-size="16">X</text>
<text x="342.4" y="303.2" fill="#ff1a1a" font-size="16">O</text>
<text x="427" y="268" fill="#f27a3e" font-size="16">X<tspan font-style="italic" font-size="12" dy="3.2">n</tspan><tspan dy="-3.2">Zn</tspan></text>
<path d="M463.5 265.2H485.5 M497.3 274.5L502.2 292.2 M499.5 305.4L483 314.6 M454.7 303.6L469.2 314.6" stroke="#f27a3e" stroke-width="1.2"/>
<path d="M455.8 271L450.4 291" stroke="#f27a3e" stroke-width="1.3" stroke-dasharray="3.5 2.6"/>
<text x="487.8" y="271.8" fill="#f27a3e" font-size="16">X</text>
<text x="499.2" y="305.2" fill="#f27a3e" font-size="16">X</text>
<text x="470.7" y="325.5" fill="#f27a3e" font-size="16">X</text>
<text x="441.6" y="305.6" fill="#f27a3e" font-size="16">O</text>
<text x="73.6" y="268.8" fill="#111" font-size="16">X<tspan font-style="italic" font-size="11.5" dy="3.2">n</tspan><tspan dy="-3.2">Zn–O</tspan></text>
<text x="64" y="323.4" fill="#111" font-size="15"><tspan font-style="italic">n</tspan> =</text>
<text x="103.5" y="323.4" fill="#111" font-size="15">3</text>
<text x="105.6" y="360.2" fill="#111" font-size="15">4</text>
<text x="126.9" y="376.7" fill="#111" font-size="15">5</text>
<text transform="translate(243.6 20.9) scale(1.065 1)" text-anchor="middle" font-size="15.2" fill="#111" stroke="#111" stroke-width="0.25">Bondi (2.91 Å)</text>
<text transform="translate(427.3 19.4) scale(1.065 1)" text-anchor="middle" font-size="15.2" fill="#111" stroke="#111" stroke-width="0.25">Hu &amp; Robertson (3.53 Å)</text>
<text transform="translate(419 157.5) scale(1.065 1)" text-anchor="middle" class="b" font-size="15" fill="#000"><tspan font-style="italic">n</tspan> = 3</text>
<text transform="translate(419.3 352.7) scale(1.065 1)" text-anchor="middle" class="b" font-size="15" fill="#000"><tspan font-style="italic">n</tspan> = 4</text>
<text transform="translate(23.5 251.1) rotate(-90)" text-anchor="middle" class="b" font-size="19.8" fill="#111">Relative frequency (%)</text>
<text transform="translate(297.8 516.4) scale(1.07 1)" text-anchor="middle" class="b" font-size="18.5" fill="#111">Zn–O distance (Å)</text>
</svg>
</body></html>
